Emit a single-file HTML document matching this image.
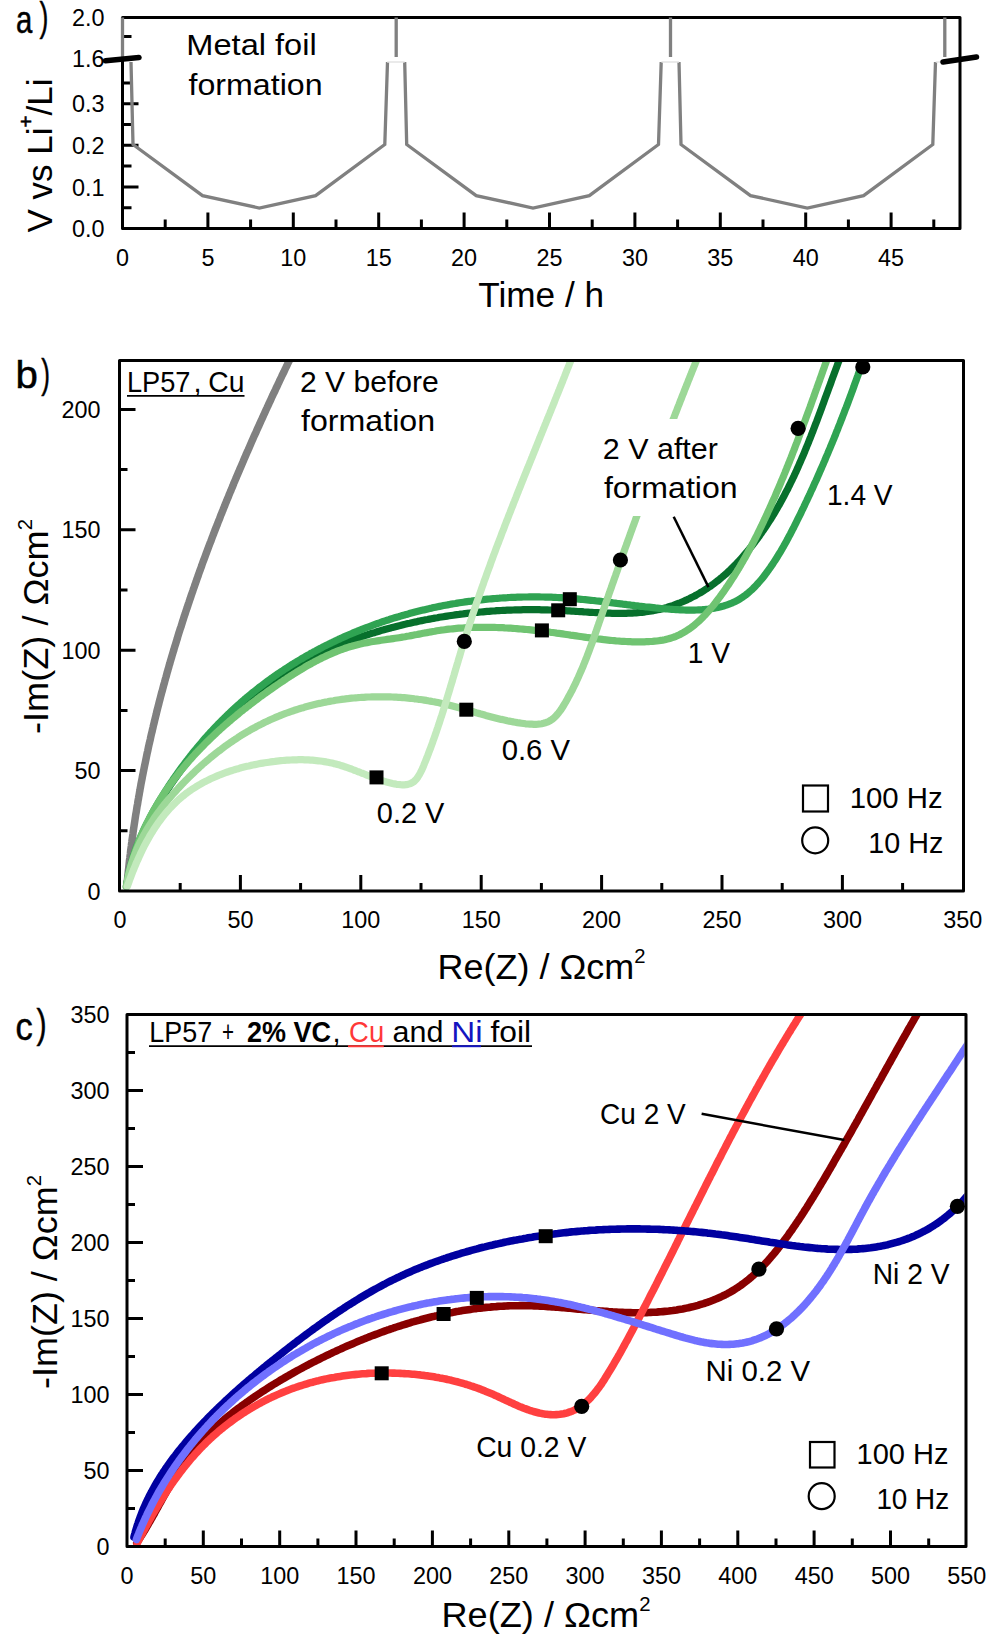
<!DOCTYPE html>
<html><head><meta charset="utf-8"><title>Figure</title>
<style>
html,body{margin:0;padding:0;background:#fff;width:995px;height:1635px;overflow:hidden;}
svg{display:block;}
text{font-family:"Liberation Sans", sans-serif;}
</style></head><body>
<svg width="995" height="1635" viewBox="0 0 995 1635">
<rect x="122.5" y="17.5" width="837.5" height="211.0" fill="none" stroke="#000" stroke-width="3" stroke-linejoin="round"/>
<path d="M165.2,228.5 v-9 M207.9,228.5 v-16 M250.6,228.5 v-9 M293.3,228.5 v-16 M336.0,228.5 v-9 M378.7,228.5 v-16 M421.4,228.5 v-9 M464.1,228.5 v-16 M506.8,228.5 v-9 M549.5,228.5 v-16 M592.2,228.5 v-9 M634.9,228.5 v-16 M677.6,228.5 v-9 M720.3,228.5 v-16 M763.0,228.5 v-9 M805.7,228.5 v-16 M848.4,228.5 v-9 M891.1,228.5 v-16 M933.8,228.5 v-9 M122.5,207.7 h9 M122.5,186.9 h16 M122.5,166.1 h9 M122.5,145.3 h16 M122.5,124.5 h9 M122.5,103.7 h16 M122.5,82.9 h9 M122.5,36.6 h9" stroke="#000" stroke-width="3" fill="none"/>
<path d="M122.5,17.5 L122.5,57.0 M131.0,62.0 L133.0,144.5 L202.5,195.6 L259.3,208.0 L315.6,195.6 L384.8,144.5 L387.5,62.0 M396.2,17.5 L396.2,57.0 M404.7,62.0 L406.7,144.5 L476.2,195.6 L533.0,208.0 L589.3,195.6 L658.5,144.5 L661.2,62.0 M670.5,17.5 L670.5,57.0 M679.0,62.0 L681.0,144.5 L750.5,195.6 L807.3,208.0 L863.6,195.6 L932.8,144.5 L935.5,62.0 M944.8,17.5 L944.8,57.0" stroke="#808080" stroke-width="3.3" fill="none"/>
<path d="M387.1,62 L404.7,62 M661.4,62 L679.0,62 M935.7,62 L953.3,62" stroke="#e4e4e4" stroke-width="1.5" fill="none"/>
<path d="M105.5,60.8 L139,57.6 M943,62 L976.5,57" stroke="#000" stroke-width="5.5" stroke-linecap="round" fill="none"/>
<text x="71.97" y="237.1" font-size="24.5" textLength="32.53" lengthAdjust="spacingAndGlyphs">0.0</text>
<text x="71.97" y="195.5" font-size="24.5" textLength="32.53" lengthAdjust="spacingAndGlyphs">0.1</text>
<text x="71.97" y="153.9" font-size="24.5" textLength="32.53" lengthAdjust="spacingAndGlyphs">0.2</text>
<text x="71.97" y="112.3" font-size="24.5" textLength="32.53" lengthAdjust="spacingAndGlyphs">0.3</text>
<text x="71.97" y="66.6" font-size="24.5" textLength="32.53" lengthAdjust="spacingAndGlyphs">1.6</text>
<text x="71.97" y="25.6" font-size="24.5" textLength="32.53" lengthAdjust="spacingAndGlyphs">2.0</text>
<text x="115.99" y="265.6" font-size="24.5" textLength="13.01" lengthAdjust="spacingAndGlyphs">0</text>
<text x="201.39" y="265.6" font-size="24.5" textLength="13.01" lengthAdjust="spacingAndGlyphs">5</text>
<text x="280.29" y="265.6" font-size="24.5" textLength="26.03" lengthAdjust="spacingAndGlyphs">10</text>
<text x="365.69" y="265.6" font-size="24.5" textLength="26.03" lengthAdjust="spacingAndGlyphs">15</text>
<text x="451.09" y="265.6" font-size="24.5" textLength="26.03" lengthAdjust="spacingAndGlyphs">20</text>
<text x="536.49" y="265.6" font-size="24.5" textLength="26.03" lengthAdjust="spacingAndGlyphs">25</text>
<text x="621.89" y="265.6" font-size="24.5" textLength="26.03" lengthAdjust="spacingAndGlyphs">30</text>
<text x="707.29" y="265.6" font-size="24.5" textLength="26.03" lengthAdjust="spacingAndGlyphs">35</text>
<text x="792.69" y="265.6" font-size="24.5" textLength="26.03" lengthAdjust="spacingAndGlyphs">40</text>
<text x="878.09" y="265.6" font-size="24.5" textLength="26.03" lengthAdjust="spacingAndGlyphs">45</text>
<text x="478.22" y="306.7" font-size="35.5" textLength="125.85" lengthAdjust="spacingAndGlyphs" >Time / h</text>
<g transform="translate(51.7,232.5) rotate(-90)"><text x="0" y="0" font-size="35.5" textLength="154" lengthAdjust="spacingAndGlyphs">V vs Li<tspan font-size="21" dy="-19" stroke="#000" stroke-width="0.6">+</tspan><tspan dy="19">/Li</tspan></text></g>
<text x="16.05" y="32.5" font-size="39" textLength="16.35" lengthAdjust="spacingAndGlyphs" stroke="#000" stroke-width="0.5">a</text>
<text x="39.44" y="31.4" font-size="40.5" textLength="8.92" lengthAdjust="spacingAndGlyphs" stroke="#000" stroke-width="0.4">)</text>
<text x="186.33" y="55" font-size="29" textLength="130.35" lengthAdjust="spacingAndGlyphs" >Metal foil</text>
<text x="188.54" y="95.2" font-size="29" textLength="134.04" lengthAdjust="spacingAndGlyphs" >formation</text>
<defs><clipPath id="cb"><rect x="121" y="362" width="841" height="527.5"/></clipPath><clipPath id="cc"><rect x="128.5" y="1016" width="836" height="529"/></clipPath></defs>
<g clip-path="url(#cb)" fill="none" stroke-linecap="round" stroke-linejoin="round">
<path d="M127.0,884.4 L127.2,882.3 L127.4,880.3 L127.6,878.3 L127.8,876.3 L128.0,874.3 L128.2,872.3 L128.4,870.3 L128.7,868.3 L128.9,866.2 L129.1,864.2 L129.3,862.2 L129.5,860.2 L129.8,858.2 L130.0,856.2 L130.3,854.2 L130.5,852.2 L130.7,850.2 L131.0,848.2 L131.3,846.2 L131.5,844.2 L131.8,842.2 L132.0,840.2 L132.3,838.2 L132.6,836.2 L132.9,834.2 L133.1,832.2 L133.4,830.2 L133.7,828.2 L134.0,826.2 L134.3,824.2 L134.6,822.3 L134.9,820.3 L135.2,818.3 L135.5,816.3 L135.8,814.3 L136.2,812.3 L136.5,810.3 L136.8,808.3 L137.1,806.3 L137.5,804.4 L137.8,802.4 L138.1,800.4 L138.5,798.4 L138.8,796.4 L139.2,794.5 L139.5,792.5 L139.9,790.5 L140.2,788.5 L140.6,786.5 L140.9,784.6 L141.3,782.6 L141.7,780.6 L142.1,778.6 L142.4,776.7 L142.8,774.7 L143.2,772.7 L143.6,770.7 L144.0,768.8 L144.4,766.8 L144.8,764.8 L145.2,762.9 L145.6,760.9 L146.0,758.9 L146.4,757.0 L146.8,755.0 L147.2,753.0 L147.7,751.1 L148.1,749.1 L148.5,747.1 L148.9,745.2 L149.4,743.2 L149.8,741.3 L150.3,739.3 L150.7,737.3 L151.1,735.4 L151.6,733.4 L152.1,731.5 L152.5,729.5 L153.0,727.6 L153.4,725.6 L153.9,723.7 L154.4,721.7 L154.8,719.8 L155.3,717.8 L155.8,715.9 L156.3,713.9 L156.7,712.0 L157.2,710.0 L157.7,708.1 L158.2,706.1 L158.7,704.2 L159.2,702.2 L159.7,700.3 L160.2,698.3 L160.7,696.4 L161.2,694.5 L161.7,692.5 L162.3,690.6 L162.8,688.6 L163.3,686.7 L163.8,684.8 L164.4,682.8 L164.9,680.9 L165.4,679.0 L166.0,677.0 L166.5,675.1 L167.0,673.2 L167.6,671.2 L168.1,669.3 L168.7,667.4 L169.2,665.4 L169.8,663.5 L170.3,661.6 L170.9,659.6 L171.5,657.7 L172.0,655.8 L172.6,653.9 L173.2,651.9 L173.8,650.0 L174.3,648.1 L174.9,646.2 L175.5,644.3 L176.1,642.3 L176.7,640.4 L177.3,638.5 L177.8,636.6 L178.4,634.7 L179.0,632.7 L179.6,630.8 L180.2,628.9 L180.9,627.0 L181.5,625.1 L182.1,623.2 L182.7,621.2 L183.3,619.3 L183.9,617.4 L184.5,615.5 L185.2,613.6 L185.8,611.7 L186.4,609.8 L187.1,607.9 L187.7,606.0 L188.3,604.1 L189.0,602.2 L189.6,600.3 L190.3,598.4 L190.9,596.5 L191.5,594.6 L192.2,592.7 L192.9,590.7 L193.5,588.8 L194.2,587.0 L194.8,585.1 L195.5,583.2 L196.2,581.3 L196.8,579.4 L197.5,577.5 L198.2,575.6 L198.8,573.7 L199.5,571.8 L200.2,569.9 L200.9,568.0 L201.6,566.1 L202.2,564.2 L202.9,562.3 L203.6,560.4 L204.3,558.6 L205.0,556.7 L205.7,554.8 L206.4,552.9 L207.1,551.0 L207.8,549.1 L208.5,547.2 L209.2,545.4 L209.9,543.5 L210.7,541.6 L211.4,539.7 L212.1,537.8 L212.8,536.0 L213.5,534.1 L214.2,532.2 L215.0,530.3 L215.7,528.4 L216.4,526.6 L217.2,524.7 L217.9,522.8 L218.6,521.0 L219.4,519.1 L220.1,517.2 L220.8,515.3 L221.6,513.5 L222.3,511.6 L223.1,509.7 L223.8,507.9 L224.6,506.0 L225.3,504.1 L226.1,502.3 L226.8,500.4 L227.6,498.5 L228.4,496.7 L229.1,494.8 L229.9,492.9 L230.7,491.1 L231.4,489.2 L232.2,487.4 L233.0,485.5 L233.7,483.6 L234.5,481.8 L235.3,479.9 L236.1,478.1 L236.8,476.2 L237.6,474.4 L238.4,472.5 L239.2,470.7 L240.0,468.8 L240.8,467.0 L241.6,465.1 L242.4,463.3 L243.2,461.4 L243.9,459.6 L244.7,457.7 L245.5,455.9 L246.3,454.0 L247.1,452.2 L248.0,450.3 L248.8,448.5 L249.6,446.6 L250.4,444.8 L251.2,442.9 L252.0,441.1 L252.8,439.3 L253.6,437.4 L254.4,435.6 L255.3,433.7 L256.1,431.9 L256.9,430.1 L257.7,428.2 L258.6,426.4 L259.4,424.6 L260.2,422.7 L261.0,420.9 L261.9,419.1 L262.7,417.2 L263.5,415.4 L264.4,413.6 L265.2,411.7 L266.0,409.9 L266.9,408.1 L267.7,406.3 L268.6,404.4 L269.4,402.6 L270.3,400.8 L271.1,399.0 L271.9,397.1 L272.8,395.3 L273.6,393.5 L274.5,391.7 L275.4,389.8 L276.2,388.0 L277.1,386.2 L277.9,384.4 L278.8,382.6 L279.6,380.7 L280.5,378.9 L281.4,377.1 L282.2,375.3 L283.1,373.5 L284.0,371.7 L284.8,369.9 L285.7,368.0 L286.6,366.2 L287.4,364.4 L288.3,362.6 L289.2,360.8 L290.0,359.0" stroke="#808080" stroke-width="7.5"/>
<path d="M126.4,886.3 L126.8,884.3 L127.2,882.4 L127.6,880.5 L128.1,878.6 L128.5,876.7 L129.0,874.7 L129.5,872.8 L130.0,870.9 L130.5,869.0 L131.1,867.1 L131.6,865.2 L132.2,863.3 L132.8,861.4 L133.4,859.4 L134.0,857.5 L134.7,855.7 L135.3,853.8 L136.0,851.9 L136.7,850.0 L137.4,848.1 L138.1,846.2 L138.9,844.3 L139.6,842.5 L140.4,840.6 L141.2,838.7 L141.9,836.9 L142.8,835.0 L143.6,833.2 L144.4,831.3 L145.3,829.5 L146.1,827.7 L147.0,825.8 L147.9,824.0 L148.8,822.2 L149.7,820.4 L150.6,818.6 L151.5,816.8 L152.5,815.0 L153.4,813.2 L154.4,811.4 L155.4,809.7 L156.4,807.9 L157.4,806.1 L158.4,804.4 L159.4,802.6 L160.4,800.9 L161.5,799.2 L162.5,797.4 L163.6,795.7 L164.6,794.0 L165.7,792.3 L166.8,790.6 L167.9,788.9 L169.0,787.3 L170.1,785.6 L171.2,783.9 L172.4,782.3 L173.5,780.6 L174.6,779.0 L175.8,777.4 L177.0,775.7 L178.1,774.1 L179.3,772.5 L180.5,770.9 L181.7,769.3 L182.9,767.7 L184.1,766.1 L185.4,764.6 L186.6,763.0 L187.8,761.4 L189.1,759.9 L190.3,758.3 L191.6,756.8 L192.9,755.3 L194.2,753.7 L195.5,752.2 L196.8,750.7 L198.1,749.2 L199.4,747.7 L200.7,746.2 L202.0,744.7 L203.4,743.3 L204.7,741.8 L206.1,740.3 L207.4,738.9 L208.8,737.4 L210.2,736.0 L211.6,734.5 L212.9,733.1 L214.3,731.7 L215.7,730.3 L217.2,728.9 L218.6,727.5 L220.0,726.1 L221.4,724.7 L222.9,723.3 L224.3,721.9 L225.8,720.5 L227.2,719.2 L228.7,717.8 L230.2,716.4 L231.7,715.1 L233.1,713.7 L234.6,712.4 L236.1,711.1 L237.7,709.8 L239.2,708.4 L240.7,707.1 L242.2,705.8 L243.8,704.5 L245.3,703.2 L246.8,701.9 L248.4,700.6 L250.0,699.4 L251.5,698.1 L253.1,696.8 L254.7,695.6 L256.3,694.3 L257.8,693.1 L259.4,691.9 L261.1,690.6 L262.7,689.4 L264.3,688.2 L265.9,687.0 L267.5,685.8 L269.2,684.6 L270.8,683.5 L272.4,682.3 L274.1,681.1 L275.8,680.0 L277.4,678.8 L279.1,677.7 L280.8,676.6 L282.4,675.4 L284.1,674.3 L285.8,673.2 L287.5,672.1 L289.2,671.1 L290.9,670.0 L292.7,668.9 L294.4,667.9 L296.1,666.8 L297.8,665.8 L299.6,664.8 L301.3,663.8 L303.1,662.8 L304.8,661.8 L306.6,660.8 L308.4,659.9 L310.1,658.9 L311.9,658.0 L313.7,657.0 L315.5,656.1 L317.3,655.2 L319.1,654.3 L320.9,653.4 L322.7,652.5 L324.5,651.7 L326.3,650.8 L328.1,650.0 L330.0,649.1 L331.8,648.3 L333.6,647.5 L335.5,646.7 L337.3,645.9 L339.2,645.2 L341.0,644.4 L342.9,643.6 L344.8,642.9 L346.6,642.2 L348.5,641.4 L350.4,640.7 L352.3,640.0 L354.1,639.3 L356.0,638.7 L357.9,638.0 L359.8,637.3 L361.7,636.7 L363.6,636.0 L365.5,635.4 L367.4,634.8 L369.3,634.1 L371.2,633.5 L373.1,632.9 L375.1,632.4 L377.0,631.8 L378.9,631.2 L380.8,630.6 L382.8,630.1 L384.7,629.5 L386.6,629.0 L388.6,628.5 L390.5,628.0 L392.4,627.4 L394.4,626.9 L396.3,626.4 L398.3,625.9 L400.2,625.5 L402.1,625.0 L404.1,624.5 L406.0,624.1 L408.0,623.6 L409.9,623.2 L411.9,622.7 L413.8,622.3 L415.8,621.9 L417.7,621.4 L419.7,621.0 L421.7,620.6 L423.6,620.2 L425.6,619.8 L427.5,619.5 L429.5,619.1 L431.5,618.7 L433.4,618.4 L435.4,618.0 L437.4,617.7 L439.3,617.3 L441.3,617.0 L443.3,616.7 L445.3,616.4 L447.2,616.1 L449.2,615.8 L451.2,615.5 L453.2,615.2 L455.1,614.9 L457.1,614.6 L459.1,614.4 L461.1,614.1 L463.1,613.9 L465.1,613.6 L467.0,613.4 L469.0,613.2 L471.0,612.9 L473.0,612.7 L475.0,612.5 L477.0,612.3 L479.0,612.1 L481.0,612.0 L483.0,611.8 L485.0,611.6 L487.0,611.4 L489.0,611.3 L491.0,611.1 L493.0,611.0 L495.0,610.9 L497.0,610.7 L499.0,610.6 L501.0,610.5 L503.0,610.4 L505.0,610.3 L507.0,610.2 L509.0,610.1 L511.0,610.1 L513.0,610.0 L515.0,609.9 L517.0,609.9 L519.0,609.8 L521.0,609.8 L523.1,609.7 L525.1,609.7 L527.1,609.7 L529.1,609.7 L531.1,609.7 L533.1,609.7 L535.2,609.7 L537.2,609.7 L539.2,609.7 L541.2,609.8 L543.2,609.8 L545.3,609.8 L547.3,609.9 L549.3,610.0 L551.3,610.0 L553.4,610.1 L555.4,610.2 L557.4,610.3 L559.4,610.4 L561.5,610.5 L563.5,610.6 L565.5,610.7 L567.6,610.8 L569.6,610.9 L571.6,611.1 L573.7,611.2 L575.7,611.3 L577.7,611.5 L579.7,611.6 L581.8,611.7 L583.8,611.9 L585.8,612.0 L587.9,612.1 L589.9,612.3 L591.9,612.4 L593.9,612.5 L596.0,612.6 L598.0,612.7 L600.0,612.8 L602.0,612.9 L604.1,613.0 L606.1,613.1 L608.1,613.2 L610.1,613.2 L612.1,613.3 L614.1,613.3 L616.1,613.4 L618.1,613.4 L620.1,613.4 L622.1,613.4 L624.1,613.3 L626.1,613.3 L628.1,613.2 L630.1,613.2 L632.1,613.1 L634.0,612.9 L636.0,612.8 L638.0,612.6 L640.0,612.5 L641.9,612.3 L643.9,612.1 L645.8,611.8 L647.8,611.5 L649.7,611.2 L651.7,610.9 L653.6,610.6 L655.5,610.2 L657.5,609.8 L659.4,609.4 L661.3,608.9 L663.2,608.4 L665.1,607.9 L667.0,607.4 L668.9,606.8 L670.8,606.2 L672.7,605.6 L674.6,604.9 L676.4,604.2 L678.3,603.5 L680.1,602.8 L682.0,602.0 L683.8,601.2 L685.6,600.4 L687.4,599.6 L689.3,598.7 L691.0,597.8 L692.8,596.9 L694.6,596.0 L696.4,595.0 L698.1,594.0 L699.8,593.0 L701.6,592.0 L703.3,590.9 L705.0,589.8 L706.7,588.7 L708.3,587.6 L710.0,586.5 L711.6,585.3 L713.3,584.1 L714.9,582.9 L716.5,581.7 L718.1,580.5 L719.6,579.2 L721.2,577.9 L722.7,576.6 L724.3,575.3 L725.8,574.0 L727.3,572.6 L728.7,571.2 L730.2,569.9 L731.7,568.5 L733.1,567.0 L734.5,565.6 L735.9,564.2 L737.3,562.7 L738.7,561.2 L740.1,559.8 L741.4,558.3 L742.7,556.8 L744.1,555.2 L745.4,553.7 L746.7,552.2 L748.0,550.6 L749.3,549.1 L750.5,547.5 L751.8,545.9 L753.0,544.4 L754.3,542.8 L755.5,541.2 L756.7,539.6 L757.9,538.0 L759.1,536.3 L760.2,534.7 L761.4,533.1 L762.5,531.4 L763.7,529.8 L764.8,528.1 L765.9,526.5 L767.0,524.8 L768.1,523.1 L769.2,521.4 L770.3,519.7 L771.4,518.0 L772.4,516.3 L773.5,514.6 L774.5,512.9 L775.5,511.2 L776.5,509.5 L777.5,507.7 L778.5,506.0 L779.5,504.3 L780.5,502.5 L781.4,500.8 L782.4,499.0 L783.3,497.3 L784.3,495.5 L785.2,493.7 L786.1,491.9 L787.0,490.2 L788.0,488.4 L788.8,486.6 L789.7,484.8 L790.6,483.0 L791.5,481.2 L792.4,479.4 L793.2,477.6 L794.1,475.8 L794.9,474.0 L795.8,472.2 L796.6,470.4 L797.4,468.5 L798.2,466.7 L799.0,464.9 L799.8,463.0 L800.6,461.2 L801.4,459.4 L802.2,457.5 L803.0,455.7 L803.8,453.8 L804.6,452.0 L805.3,450.1 L806.1,448.3 L806.8,446.4 L807.6,444.6 L808.4,442.7 L809.1,440.8 L809.8,439.0 L810.6,437.1 L811.3,435.2 L812.0,433.4 L812.8,431.5 L813.5,429.6 L814.2,427.7 L814.9,425.9 L815.6,424.0 L816.4,422.1 L817.1,420.2 L817.8,418.3 L818.5,416.5 L819.2,414.6 L819.9,412.7 L820.6,410.8 L821.3,408.9 L822.0,407.0 L822.7,405.1 L823.4,403.3 L824.0,401.4 L824.7,399.5 L825.4,397.6 L826.1,395.7 L826.8,393.8 L827.5,391.9 L828.2,390.0 L828.9,388.1 L829.6,386.2 L830.3,384.4 L831.0,382.5 L831.6,380.6 L832.3,378.7 L833.0,376.8 L833.7,374.9 L834.4,373.0 L835.1,371.2 L835.8,369.3 L836.5,367.4 L837.2,365.5 L837.9,363.6 L838.6,361.8 L839.3,359.9 L840.0,358.0" stroke="#07702c" stroke-width="7.2"/>
<path d="M126.6,886.4 L126.9,884.4 L127.2,882.4 L127.5,880.4 L127.9,878.4 L128.2,876.5 L128.6,874.5 L129.0,872.5 L129.5,870.6 L129.9,868.6 L130.4,866.7 L130.9,864.7 L131.4,862.8 L132.0,860.9 L132.6,859.0 L133.1,857.1 L133.7,855.2 L134.4,853.3 L135.0,851.4 L135.7,849.5 L136.3,847.6 L137.0,845.7 L137.8,843.9 L138.5,842.0 L139.2,840.2 L140.0,838.3 L140.8,836.5 L141.6,834.7 L142.4,832.9 L143.2,831.0 L144.1,829.2 L144.9,827.4 L145.8,825.6 L146.7,823.8 L147.6,822.1 L148.5,820.3 L149.4,818.5 L150.4,816.7 L151.3,815.0 L152.3,813.2 L153.2,811.4 L154.2,809.7 L155.2,808.0 L156.2,806.2 L157.2,804.5 L158.2,802.7 L159.3,801.0 L160.3,799.3 L161.4,797.6 L162.4,795.9 L163.5,794.2 L164.6,792.5 L165.6,790.8 L166.7,789.1 L167.8,787.4 L168.9,785.7 L170.1,784.0 L171.2,782.3 L172.3,780.7 L173.4,779.0 L174.6,777.4 L175.7,775.7 L176.9,774.1 L178.1,772.4 L179.2,770.8 L180.4,769.1 L181.6,767.5 L182.8,765.9 L184.0,764.3 L185.2,762.7 L186.4,761.1 L187.7,759.5 L188.9,757.9 L190.1,756.3 L191.4,754.7 L192.7,753.1 L193.9,751.6 L195.2,750.0 L196.5,748.4 L197.8,746.9 L199.1,745.3 L200.4,743.8 L201.7,742.3 L203.0,740.7 L204.3,739.2 L205.6,737.7 L207.0,736.2 L208.3,734.7 L209.7,733.2 L211.0,731.7 L212.4,730.3 L213.8,728.8 L215.2,727.3 L216.5,725.9 L217.9,724.4 L219.3,723.0 L220.8,721.5 L222.2,720.1 L223.6,718.7 L225.0,717.3 L226.5,715.9 L227.9,714.5 L229.4,713.1 L230.8,711.7 L232.3,710.3 L233.8,709.0 L235.2,707.6 L236.7,706.3 L238.2,704.9 L239.7,703.6 L241.2,702.3 L242.7,700.9 L244.2,699.6 L245.8,698.3 L247.3,697.0 L248.8,695.8 L250.4,694.5 L251.9,693.2 L253.5,692.0 L255.1,690.7 L256.6,689.5 L258.2,688.2 L259.8,687.0 L261.4,685.8 L263.0,684.6 L264.6,683.4 L266.2,682.2 L267.8,681.0 L269.4,679.8 L271.0,678.6 L272.7,677.5 L274.3,676.3 L275.9,675.2 L277.6,674.0 L279.2,672.9 L280.9,671.8 L282.6,670.7 L284.2,669.6 L285.9,668.5 L287.6,667.4 L289.3,666.3 L291.0,665.2 L292.7,664.2 L294.4,663.1 L296.1,662.1 L297.8,661.0 L299.5,660.0 L301.2,659.0 L303.0,658.0 L304.7,656.9 L306.4,656.0 L308.2,655.0 L309.9,654.0 L311.7,653.0 L313.4,652.0 L315.2,651.1 L317.0,650.1 L318.7,649.2 L320.5,648.3 L322.3,647.3 L324.1,646.4 L325.9,645.5 L327.7,644.6 L329.5,643.7 L331.3,642.9 L333.1,642.0 L334.9,641.1 L336.7,640.3 L338.5,639.4 L340.3,638.6 L342.2,637.7 L344.0,636.9 L345.8,636.1 L347.7,635.3 L349.5,634.5 L351.4,633.7 L353.2,632.9 L355.1,632.1 L356.9,631.4 L358.8,630.6 L360.6,629.9 L362.5,629.1 L364.4,628.4 L366.3,627.7 L368.1,627.0 L370.0,626.3 L371.9,625.6 L373.8,624.9 L375.7,624.2 L377.6,623.5 L379.5,622.9 L381.4,622.2 L383.3,621.5 L385.2,620.9 L387.1,620.3 L389.0,619.7 L390.9,619.0 L392.8,618.4 L394.8,617.8 L396.7,617.2 L398.6,616.7 L400.5,616.1 L402.5,615.5 L404.4,615.0 L406.3,614.4 L408.3,613.9 L410.2,613.3 L412.2,612.8 L414.1,612.3 L416.0,611.8 L418.0,611.3 L420.0,610.8 L421.9,610.3 L423.9,609.9 L425.8,609.4 L427.8,608.9 L429.7,608.5 L431.7,608.1 L433.7,607.6 L435.6,607.2 L437.6,606.8 L439.6,606.4 L441.6,606.0 L443.5,605.6 L445.5,605.2 L447.5,604.9 L449.5,604.5 L451.4,604.1 L453.4,603.8 L455.4,603.5 L457.4,603.1 L459.4,602.8 L461.4,602.5 L463.3,602.2 L465.3,601.9 L467.3,601.6 L469.3,601.3 L471.3,601.1 L473.3,600.8 L475.3,600.5 L477.3,600.3 L479.3,600.1 L481.3,599.8 L483.3,599.6 L485.3,599.4 L487.3,599.2 L489.3,599.0 L491.3,598.8 L493.3,598.6 L495.3,598.5 L497.3,598.3 L499.3,598.2 L501.3,598.0 L503.3,597.9 L505.3,597.8 L507.3,597.7 L509.3,597.5 L511.3,597.4 L513.3,597.4 L515.3,597.3 L517.3,597.2 L519.3,597.1 L521.3,597.1 L523.3,597.0 L525.3,597.0 L527.3,597.0 L529.3,596.9 L531.3,596.9 L533.3,596.9 L535.3,596.9 L537.3,596.9 L539.3,596.9 L541.3,597.0 L543.3,597.0 L545.3,597.1 L547.3,597.1 L549.3,597.2 L551.3,597.2 L553.3,597.3 L555.3,597.4 L557.2,597.5 L559.2,597.6 L561.2,597.7 L563.2,597.8 L565.2,598.0 L567.2,598.1 L569.2,598.3 L571.2,598.4 L573.1,598.6 L575.1,598.7 L577.1,598.9 L579.1,599.1 L581.1,599.3 L583.1,599.5 L585.0,599.7 L587.0,599.9 L589.0,600.1 L591.0,600.3 L593.0,600.5 L595.0,600.7 L596.9,601.0 L598.9,601.2 L600.9,601.4 L602.9,601.7 L604.9,601.9 L606.9,602.1 L608.9,602.4 L610.9,602.6 L612.9,602.9 L614.8,603.1 L616.8,603.4 L618.8,603.6 L620.8,603.8 L622.9,604.1 L624.9,604.3 L626.9,604.6 L628.9,604.8 L630.9,605.1 L632.9,605.3 L634.9,605.6 L636.9,605.8 L639.0,606.1 L641.0,606.3 L643.0,606.5 L645.0,606.8 L647.1,607.0 L649.1,607.2 L651.2,607.4 L653.2,607.6 L655.3,607.9 L657.3,608.1 L659.4,608.3 L661.4,608.5 L663.5,608.7 L665.6,608.8 L667.6,609.0 L669.7,609.2 L671.8,609.3 L673.9,609.5 L675.9,609.6 L678.0,609.7 L680.1,609.8 L682.1,609.9 L684.2,610.0 L686.2,610.1 L688.3,610.1 L690.3,610.1 L692.4,610.1 L694.4,610.1 L696.4,610.0 L698.5,609.9 L700.5,609.8 L702.5,609.7 L704.5,609.5 L706.4,609.3 L708.4,609.1 L710.3,608.8 L712.3,608.5 L714.2,608.2 L716.1,607.8 L718.0,607.4 L719.9,607.0 L721.7,606.5 L723.6,606.0 L725.4,605.4 L727.2,604.8 L729.0,604.2 L730.7,603.5 L732.4,602.8 L734.2,602.0 L735.9,601.2 L737.5,600.3 L739.2,599.3 L740.8,598.4 L742.4,597.3 L743.9,596.2 L745.5,595.1 L747.0,593.9 L748.5,592.7 L749.9,591.4 L751.4,590.1 L752.8,588.8 L754.2,587.4 L755.6,586.0 L756.9,584.5 L758.3,583.0 L759.6,581.5 L760.9,580.0 L762.2,578.4 L763.4,576.9 L764.7,575.2 L765.9,573.6 L767.1,572.0 L768.3,570.3 L769.5,568.7 L770.7,567.0 L771.8,565.3 L773.0,563.6 L774.1,561.9 L775.2,560.2 L776.3,558.5 L777.4,556.8 L778.4,555.0 L779.5,553.3 L780.6,551.6 L781.6,549.8 L782.6,548.0 L783.6,546.3 L784.6,544.5 L785.6,542.7 L786.6,540.9 L787.6,539.1 L788.5,537.3 L789.5,535.5 L790.5,533.7 L791.4,531.9 L792.3,530.1 L793.3,528.3 L794.2,526.5 L795.1,524.7 L796.0,522.9 L796.9,521.0 L797.8,519.2 L798.7,517.4 L799.6,515.6 L800.5,513.8 L801.4,511.9 L802.2,510.1 L803.1,508.3 L804.0,506.5 L804.8,504.7 L805.7,502.8 L806.6,501.0 L807.4,499.2 L808.3,497.4 L809.1,495.6 L810.0,493.7 L810.8,491.9 L811.6,490.1 L812.5,488.3 L813.3,486.5 L814.1,484.6 L814.9,482.8 L815.8,481.0 L816.6,479.2 L817.4,477.3 L818.2,475.5 L819.0,473.7 L819.8,471.9 L820.6,470.0 L821.4,468.2 L822.2,466.4 L823.0,464.6 L823.8,462.7 L824.6,460.9 L825.3,459.1 L826.1,457.2 L826.9,455.4 L827.7,453.6 L828.4,451.7 L829.2,449.9 L830.0,448.1 L830.7,446.2 L831.5,444.4 L832.3,442.5 L833.0,440.7 L833.8,438.9 L834.5,437.0 L835.3,435.2 L836.0,433.3 L836.7,431.5 L837.5,429.6 L838.2,427.8 L838.9,425.9 L839.7,424.1 L840.4,422.2 L841.1,420.4 L841.9,418.5 L842.6,416.6 L843.3,414.8 L844.0,412.9 L844.7,411.0 L845.4,409.2 L846.2,407.3 L846.9,405.4 L847.6,403.6 L848.3,401.7 L849.0,399.8 L849.7,397.9 L850.4,396.0 L851.1,394.2 L851.8,392.3 L852.5,390.4 L853.2,388.5 L853.9,386.6 L854.5,384.7 L855.2,382.8 L855.9,380.9 L856.6,379.0 L857.3,377.1 L858.0,375.2 L858.6,373.3 L859.3,371.4 L860.0,369.4 L860.7,367.5 L861.4,365.6 L862.0,363.7 L862.7,361.8 L863.4,359.8 L864.0,357.9" stroke="#2fa352" stroke-width="7.2"/>
<path d="M126.3,886.8 L126.7,884.8 L127.1,882.7 L127.4,880.7 L127.9,878.7 L128.3,876.6 L128.7,874.6 L129.2,872.6 L129.7,870.6 L130.2,868.6 L130.7,866.6 L131.2,864.7 L131.8,862.7 L132.4,860.7 L132.9,858.8 L133.5,856.9 L134.2,854.9 L134.8,853.0 L135.4,851.1 L136.1,849.2 L136.8,847.3 L137.5,845.4 L138.2,843.5 L138.9,841.6 L139.6,839.8 L140.4,837.9 L141.1,836.1 L141.9,834.2 L142.7,832.4 L143.5,830.6 L144.4,828.8 L145.2,827.0 L146.1,825.2 L146.9,823.4 L147.8,821.6 L148.7,819.8 L149.6,818.0 L150.5,816.3 L151.5,814.5 L152.4,812.8 L153.4,811.0 L154.4,809.3 L155.3,807.6 L156.4,805.9 L157.4,804.2 L158.4,802.5 L159.4,800.8 L160.5,799.1 L161.5,797.4 L162.6,795.7 L163.7,794.1 L164.8,792.4 L165.9,790.8 L167.0,789.1 L168.2,787.5 L169.3,785.9 L170.5,784.3 L171.7,782.7 L172.8,781.1 L174.0,779.5 L175.2,777.9 L176.4,776.3 L177.7,774.7 L178.9,773.1 L180.1,771.6 L181.4,770.0 L182.7,768.5 L183.9,767.0 L185.2,765.4 L186.5,763.9 L187.8,762.4 L189.1,760.9 L190.5,759.4 L191.8,757.9 L193.1,756.4 L194.5,754.9 L195.8,753.4 L197.2,752.0 L198.6,750.5 L200.0,749.1 L201.4,747.6 L202.8,746.2 L204.2,744.7 L205.6,743.3 L207.0,741.9 L208.5,740.5 L209.9,739.1 L211.4,737.7 L212.8,736.3 L214.3,734.9 L215.8,733.5 L217.2,732.1 L218.7,730.8 L220.2,729.4 L221.7,728.1 L223.2,726.7 L224.7,725.4 L226.3,724.0 L227.8,722.7 L229.3,721.4 L230.9,720.1 L232.4,718.8 L234.0,717.5 L235.5,716.2 L237.1,714.9 L238.7,713.6 L240.2,712.3 L241.8,711.0 L243.4,709.8 L245.0,708.5 L246.6,707.3 L248.2,706.0 L249.8,704.8 L251.4,703.5 L253.0,702.3 L254.6,701.1 L256.3,699.9 L257.9,698.6 L259.5,697.4 L261.1,696.2 L262.8,695.0 L264.4,693.9 L266.1,692.7 L267.7,691.5 L269.4,690.3 L271.0,689.2 L272.7,688.0 L274.4,686.8 L276.0,685.7 L277.7,684.6 L279.4,683.4 L281.0,682.3 L282.7,681.2 L284.4,680.0 L286.1,678.9 L287.7,677.8 L289.4,676.7 L291.1,675.6 L292.8,674.6 L294.5,673.5 L296.2,672.4 L297.9,671.4 L299.6,670.3 L301.3,669.3 L303.1,668.3 L304.8,667.2 L306.5,666.2 L308.2,665.2 L310.0,664.3 L311.7,663.3 L313.5,662.4 L315.2,661.4 L317.0,660.5 L318.7,659.6 L320.5,658.7 L322.3,657.8 L324.1,657.0 L325.9,656.1 L327.7,655.3 L329.5,654.5 L331.3,653.7 L333.1,652.9 L334.9,652.2 L336.7,651.4 L338.6,650.7 L340.4,650.0 L342.3,649.3 L344.1,648.7 L346.0,648.0 L347.9,647.4 L349.8,646.8 L351.7,646.3 L353.6,645.7 L355.5,645.2 L357.4,644.7 L359.3,644.2 L361.3,643.8 L363.2,643.3 L365.2,642.9 L367.1,642.6 L369.1,642.2 L371.1,641.8 L373.1,641.5 L375.1,641.2 L377.1,640.9 L379.1,640.6 L381.1,640.3 L383.1,640.0 L385.1,639.7 L387.1,639.4 L389.1,639.2 L391.1,638.9 L393.1,638.6 L395.1,638.3 L397.1,638.0 L399.1,637.7 L401.1,637.4 L403.1,637.0 L405.1,636.7 L407.1,636.3 L409.1,636.0 L411.1,635.6 L413.1,635.2 L415.1,634.8 L417.0,634.5 L419.0,634.1 L421.0,633.7 L423.0,633.3 L424.9,632.9 L426.9,632.6 L428.9,632.2 L430.9,631.9 L432.8,631.5 L434.8,631.2 L436.8,630.8 L438.8,630.5 L440.8,630.2 L442.7,630.0 L444.7,629.7 L446.7,629.4 L448.7,629.2 L450.7,629.0 L452.7,628.8 L454.6,628.6 L456.6,628.4 L458.6,628.2 L460.6,628.1 L462.6,628.0 L464.6,627.8 L466.6,627.7 L468.6,627.6 L470.6,627.5 L472.6,627.5 L474.6,627.4 L476.6,627.4 L478.6,627.3 L480.6,627.3 L482.6,627.3 L484.6,627.3 L486.6,627.3 L488.6,627.3 L490.6,627.3 L492.6,627.4 L494.6,627.4 L496.6,627.5 L498.6,627.6 L500.7,627.7 L502.7,627.7 L504.7,627.9 L506.7,628.0 L508.7,628.1 L510.7,628.2 L512.7,628.3 L514.7,628.5 L516.7,628.6 L518.7,628.8 L520.7,629.0 L522.7,629.1 L524.7,629.3 L526.7,629.5 L528.7,629.7 L530.7,629.9 L532.7,630.1 L534.7,630.3 L536.7,630.6 L538.7,630.8 L540.7,631.0 L542.7,631.3 L544.7,631.5 L546.7,631.8 L548.7,632.0 L550.7,632.3 L552.7,632.5 L554.6,632.8 L556.6,633.1 L558.6,633.3 L560.6,633.6 L562.6,633.9 L564.6,634.2 L566.5,634.5 L568.5,634.8 L570.5,635.1 L572.5,635.3 L574.4,635.6 L576.4,635.9 L578.4,636.2 L580.4,636.5 L582.3,636.8 L584.3,637.1 L586.3,637.4 L588.3,637.6 L590.3,637.9 L592.2,638.2 L594.2,638.5 L596.2,638.7 L598.2,639.0 L600.2,639.2 L602.1,639.4 L604.1,639.7 L606.1,639.9 L608.1,640.1 L610.1,640.3 L612.1,640.5 L614.1,640.7 L616.1,640.9 L618.1,641.0 L620.1,641.2 L622.1,641.3 L624.1,641.4 L626.1,641.5 L628.1,641.6 L630.2,641.7 L632.2,641.8 L634.2,641.8 L636.3,641.9 L638.3,641.9 L640.3,641.9 L642.4,641.8 L644.4,641.8 L646.5,641.7 L648.6,641.6 L650.6,641.5 L652.6,641.4 L654.7,641.2 L656.7,641.0 L658.7,640.7 L660.7,640.4 L662.7,640.1 L664.7,639.7 L666.6,639.2 L668.5,638.8 L670.4,638.2 L672.3,637.6 L674.1,637.0 L676.0,636.3 L677.7,635.5 L679.5,634.7 L681.2,633.8 L682.9,632.9 L684.6,631.9 L686.3,630.9 L687.9,629.8 L689.5,628.7 L691.1,627.6 L692.7,626.4 L694.2,625.2 L695.7,623.9 L697.2,622.6 L698.7,621.3 L700.2,619.9 L701.6,618.5 L703.0,617.1 L704.4,615.6 L705.8,614.2 L707.1,612.7 L708.5,611.1 L709.8,609.6 L711.1,608.0 L712.4,606.5 L713.7,604.9 L715.0,603.3 L716.2,601.7 L717.5,600.0 L718.7,598.4 L719.9,596.8 L721.1,595.1 L722.3,593.5 L723.5,591.8 L724.6,590.2 L725.8,588.5 L726.9,586.8 L728.1,585.2 L729.2,583.5 L730.3,581.8 L731.4,580.1 L732.5,578.4 L733.6,576.7 L734.7,575.0 L735.7,573.3 L736.8,571.6 L737.8,569.9 L738.9,568.2 L739.9,566.5 L740.9,564.7 L741.9,563.0 L742.9,561.3 L743.9,559.5 L744.9,557.8 L745.9,556.1 L746.9,554.3 L747.8,552.6 L748.8,550.8 L749.7,549.0 L750.7,547.3 L751.6,545.5 L752.5,543.8 L753.5,542.0 L754.4,540.2 L755.3,538.4 L756.2,536.6 L757.1,534.9 L758.0,533.1 L758.8,531.3 L759.7,529.5 L760.6,527.7 L761.5,525.9 L762.3,524.1 L763.2,522.3 L764.0,520.5 L764.9,518.7 L765.7,516.9 L766.6,515.1 L767.4,513.3 L768.2,511.4 L769.1,509.6 L769.9,507.8 L770.7,506.0 L771.5,504.1 L772.3,502.3 L773.1,500.5 L774.0,498.7 L774.8,496.8 L775.6,495.0 L776.3,493.1 L777.1,491.3 L777.9,489.5 L778.7,487.6 L779.5,485.8 L780.3,483.9 L781.0,482.1 L781.8,480.2 L782.6,478.4 L783.4,476.5 L784.1,474.7 L784.9,472.8 L785.6,471.0 L786.4,469.1 L787.1,467.2 L787.9,465.4 L788.6,463.5 L789.4,461.7 L790.1,459.8 L790.9,457.9 L791.6,456.1 L792.3,454.2 L793.0,452.3 L793.8,450.4 L794.5,448.6 L795.2,446.7 L795.9,444.8 L796.7,442.9 L797.4,441.1 L798.1,439.2 L798.8,437.3 L799.5,435.4 L800.2,433.5 L800.9,431.7 L801.6,429.8 L802.3,427.9 L803.0,426.0 L803.7,424.1 L804.4,422.3 L805.1,420.4 L805.8,418.5 L806.5,416.6 L807.2,414.7 L807.9,412.8 L808.6,410.9 L809.3,409.0 L810.0,407.2 L810.7,405.3 L811.3,403.4 L812.0,401.5 L812.7,399.6 L813.4,397.7 L814.1,395.8 L814.7,393.9 L815.4,392.0 L816.1,390.1 L816.8,388.2 L817.4,386.4 L818.1,384.5 L818.8,382.6 L819.5,380.7 L820.1,378.8 L820.8,376.9 L821.5,375.0 L822.2,373.1 L822.8,371.2 L823.5,369.3 L824.2,367.5 L824.8,365.6 L825.5,363.7 L826.2,361.8 L826.8,359.9 L827.5,358.0" stroke="#70c472" stroke-width="7.2"/>
<path d="M126.7,886.3 L127.0,884.3 L127.3,882.3 L127.6,880.4 L127.9,878.4 L128.3,876.4 L128.7,874.5 L129.2,872.6 L129.7,870.6 L130.2,868.7 L130.7,866.8 L131.2,864.9 L131.8,863.0 L132.4,861.1 L133.1,859.2 L133.7,857.4 L134.4,855.5 L135.1,853.7 L135.9,851.8 L136.6,850.0 L137.4,848.1 L138.2,846.3 L139.0,844.5 L139.9,842.7 L140.8,840.9 L141.7,839.2 L142.6,837.4 L143.5,835.6 L144.5,833.9 L145.5,832.1 L146.5,830.4 L147.5,828.7 L148.5,826.9 L149.6,825.2 L150.7,823.5 L151.8,821.9 L152.9,820.2 L154.0,818.5 L155.1,816.8 L156.3,815.2 L157.5,813.5 L158.7,811.9 L159.9,810.3 L161.1,808.7 L162.3,807.0 L163.6,805.4 L164.9,803.9 L166.1,802.3 L167.4,800.7 L168.7,799.1 L170.0,797.6 L171.4,796.0 L172.7,794.5 L174.0,793.0 L175.4,791.5 L176.8,790.0 L178.1,788.5 L179.5,787.0 L180.9,785.5 L182.3,784.0 L183.7,782.6 L185.1,781.1 L186.5,779.7 L188.0,778.2 L189.4,776.8 L190.9,775.4 L192.3,774.0 L193.8,772.6 L195.2,771.2 L196.7,769.8 L198.2,768.5 L199.6,767.1 L201.1,765.8 L202.6,764.4 L204.1,763.1 L205.7,761.8 L207.2,760.5 L208.7,759.2 L210.2,757.9 L211.8,756.6 L213.3,755.4 L214.9,754.1 L216.4,752.9 L218.0,751.7 L219.6,750.5 L221.2,749.3 L222.7,748.1 L224.3,746.9 L225.9,745.7 L227.6,744.6 L229.2,743.4 L230.8,742.3 L232.4,741.2 L234.1,740.1 L235.7,739.0 L237.4,737.9 L239.0,736.8 L240.7,735.7 L242.4,734.7 L244.1,733.7 L245.8,732.7 L247.5,731.6 L249.2,730.7 L250.9,729.7 L252.6,728.7 L254.4,727.8 L256.1,726.8 L257.8,725.9 L259.6,725.0 L261.4,724.1 L263.1,723.2 L264.9,722.3 L266.7,721.5 L268.5,720.6 L270.3,719.8 L272.1,719.0 L273.9,718.2 L275.7,717.4 L277.6,716.6 L279.4,715.9 L281.2,715.1 L283.1,714.4 L285.0,713.7 L286.8,713.0 L288.7,712.3 L290.6,711.6 L292.5,711.0 L294.4,710.3 L296.3,709.7 L298.2,709.1 L300.1,708.5 L302.1,707.9 L304.0,707.4 L305.9,706.8 L307.9,706.3 L309.8,705.8 L311.8,705.3 L313.7,704.8 L315.7,704.3 L317.6,703.8 L319.6,703.4 L321.6,703.0 L323.6,702.5 L325.6,702.1 L327.5,701.8 L329.5,701.4 L331.5,701.0 L333.5,700.7 L335.5,700.3 L337.5,700.0 L339.5,699.7 L341.6,699.4 L343.6,699.2 L345.6,698.9 L347.6,698.7 L349.6,698.4 L351.6,698.2 L353.7,698.0 L355.7,697.8 L357.7,697.7 L359.8,697.5 L361.8,697.4 L363.8,697.3 L365.8,697.1 L367.9,697.0 L369.9,697.0 L371.9,696.9 L374.0,696.8 L376.0,696.8 L378.0,696.8 L380.1,696.8 L382.1,696.8 L384.1,696.8 L386.1,696.8 L388.2,696.9 L390.2,696.9 L392.2,697.0 L394.2,697.1 L396.3,697.2 L398.3,697.3 L400.3,697.4 L402.3,697.6 L404.3,697.7 L406.3,697.9 L408.4,698.1 L410.4,698.3 L412.4,698.5 L414.4,698.8 L416.3,699.0 L418.3,699.3 L420.3,699.5 L422.3,699.8 L424.3,700.1 L426.3,700.4 L428.2,700.8 L430.2,701.1 L432.2,701.5 L434.1,701.8 L436.1,702.2 L438.0,702.6 L439.9,703.0 L441.9,703.5 L443.8,703.9 L445.7,704.4 L447.6,704.8 L449.6,705.3 L451.5,705.8 L453.4,706.3 L455.3,706.8 L457.2,707.3 L459.1,707.8 L461.0,708.4 L462.9,708.9 L464.8,709.4 L466.7,710.0 L468.6,710.5 L470.5,711.1 L472.4,711.6 L474.3,712.1 L476.2,712.7 L478.1,713.2 L480.0,713.8 L481.9,714.3 L483.8,714.8 L485.7,715.4 L487.7,715.9 L489.6,716.4 L491.5,716.9 L493.5,717.4 L495.4,717.9 L497.4,718.4 L499.3,718.9 L501.3,719.4 L503.3,719.8 L505.3,720.2 L507.3,720.7 L509.3,721.1 L511.3,721.5 L513.3,721.9 L515.3,722.2 L517.4,722.6 L519.4,722.9 L521.5,723.2 L523.6,723.5 L525.6,723.8 L527.7,724.0 L529.8,724.1 L531.8,724.2 L533.9,724.3 L535.9,724.3 L537.9,724.2 L539.8,724.0 L541.7,723.7 L543.5,723.3 L545.3,722.8 L547.1,722.2 L548.8,721.4 L550.4,720.5 L551.9,719.5 L553.4,718.4 L554.8,717.1 L556.1,715.7 L557.4,714.3 L558.7,712.7 L559.9,711.1 L561.1,709.5 L562.2,707.8 L563.3,706.0 L564.4,704.2 L565.4,702.5 L566.4,700.7 L567.4,698.9 L568.4,697.1 L569.4,695.3 L570.4,693.5 L571.3,691.7 L572.3,689.9 L573.2,688.0 L574.1,686.2 L575.0,684.4 L575.9,682.6 L576.7,680.7 L577.6,678.9 L578.4,677.1 L579.2,675.2 L580.0,673.4 L580.8,671.5 L581.6,669.7 L582.4,667.8 L583.2,666.0 L583.9,664.1 L584.7,662.3 L585.4,660.4 L586.2,658.5 L586.9,656.7 L587.6,654.8 L588.3,652.9 L589.0,651.1 L589.7,649.2 L590.4,647.3 L591.1,645.4 L591.8,643.6 L592.5,641.7 L593.1,639.8 L593.8,637.9 L594.5,636.0 L595.1,634.2 L595.8,632.3 L596.4,630.4 L597.1,628.5 L597.7,626.6 L598.4,624.7 L599.0,622.8 L599.7,621.0 L600.3,619.1 L601.0,617.2 L601.6,615.3 L602.3,613.4 L602.9,611.5 L603.6,609.6 L604.2,607.7 L604.9,605.9 L605.5,604.0 L606.2,602.1 L606.9,600.2 L607.5,598.3 L608.2,596.4 L608.8,594.5 L609.5,592.6 L610.1,590.8 L610.8,588.9 L611.5,587.0 L612.1,585.1 L612.8,583.2 L613.5,581.3 L614.1,579.4 L614.8,577.5 L615.5,575.7 L616.1,573.8 L616.8,571.9 L617.5,570.0 L618.1,568.1 L618.8,566.2 L619.5,564.3 L620.1,562.4 L620.8,560.6 L621.5,558.7 L622.1,556.8 L622.8,554.9 L623.5,553.0 L624.2,551.1 L624.8,549.2 L625.5,547.3 L626.2,545.5 L626.9,543.6 L627.5,541.7 L628.2,539.8 L628.9,537.9 L629.6,536.0 L630.3,534.1 L630.9,532.3 L631.6,530.4 L632.3,528.5 L633.0,526.6 L633.7,524.7 L634.4,522.8 L635.1,521.0 L635.7,519.1 L636.4,517.2 L637.1,515.3 L637.8,513.4 L638.5,511.5 L639.2,509.7 L639.9,507.8 L640.6,505.9 L641.3,504.0 L641.9,502.1 L642.6,500.2 L643.3,498.4 L644.0,496.5 L644.7,494.6 L645.4,492.7 L646.1,490.8 L646.8,488.9 L647.5,487.1 L648.2,485.2 L648.9,483.3 L649.6,481.4 L650.3,479.5 L651.0,477.7 L651.7,475.8 L652.4,473.9 L653.1,472.0 L653.8,470.1 L654.5,468.3 L655.2,466.4 L656.0,464.5 L656.7,462.6 L657.4,460.8 L658.1,458.9 L658.8,457.0 L659.5,455.1 L660.2,453.2 L660.9,451.4 L661.6,449.5 L662.4,447.6 L663.1,445.7 L663.8,443.9 L664.5,442.0 L665.2,440.1 L665.9,438.2 L666.7,436.4 L667.4,434.5 L668.1,432.6 L668.8,430.7 L669.5,428.9 L670.3,427.0 L671.0,425.1 L671.7,423.3 L672.4,421.4 L673.1,419.5 L673.9,417.6 L674.6,415.8 L675.3,413.9 L676.1,412.0 L676.8,410.2 L677.5,408.3 L678.2,406.4 L679.0,404.6 L679.7,402.7 L680.4,400.8 L681.2,399.0 L681.9,397.1 L682.6,395.2 L683.4,393.4 L684.1,391.5 L684.8,389.6 L685.6,387.8 L686.3,385.9 L687.1,384.0 L687.8,382.2 L688.5,380.3 L689.3,378.5 L690.0,376.6 L690.8,374.7 L691.5,372.9 L692.2,371.0 L693.0,369.2 L693.7,367.3 L694.5,365.4 L695.2,363.6 L696.0,361.7 L696.7,359.9 L697.5,358.0" stroke="#9dd898" stroke-width="7.2"/>
<path d="M127.4,886.3 L128.0,884.5 L128.7,882.7 L129.3,880.8 L130.0,879.0 L130.7,877.2 L131.4,875.3 L132.1,873.5 L132.8,871.6 L133.6,869.8 L134.3,867.9 L135.1,866.1 L135.9,864.2 L136.6,862.3 L137.5,860.5 L138.3,858.7 L139.1,856.8 L140.0,855.0 L140.8,853.1 L141.7,851.3 L142.6,849.5 L143.5,847.7 L144.4,845.8 L145.4,844.0 L146.3,842.3 L147.3,840.5 L148.3,838.7 L149.3,836.9 L150.3,835.2 L151.4,833.4 L152.5,831.7 L153.5,830.0 L154.6,828.3 L155.7,826.6 L156.9,824.9 L158.0,823.2 L159.2,821.6 L160.4,820.0 L161.6,818.4 L162.8,816.8 L164.1,815.2 L165.3,813.6 L166.6,812.1 L167.9,810.6 L169.2,809.1 L170.6,807.6 L172.0,806.2 L173.3,804.8 L174.8,803.4 L176.2,802.0 L177.6,800.6 L179.1,799.3 L180.6,798.0 L182.1,796.7 L183.7,795.5 L185.2,794.2 L186.8,793.0 L188.4,791.9 L190.0,790.7 L191.6,789.6 L193.3,788.5 L195.0,787.4 L196.6,786.4 L198.3,785.4 L200.1,784.4 L201.8,783.4 L203.5,782.4 L205.3,781.5 L207.1,780.6 L208.9,779.7 L210.7,778.8 L212.5,778.0 L214.3,777.2 L216.2,776.4 L218.0,775.6 L219.9,774.8 L221.8,774.1 L223.7,773.4 L225.6,772.7 L227.5,772.0 L229.4,771.3 L231.3,770.7 L233.2,770.1 L235.2,769.5 L237.1,768.9 L239.1,768.4 L241.0,767.8 L243.0,767.3 L245.0,766.8 L247.0,766.3 L248.9,765.9 L250.9,765.4 L252.9,765.0 L254.9,764.6 L256.9,764.2 L258.9,763.8 L260.9,763.4 L262.9,763.1 L264.9,762.8 L266.9,762.5 L268.9,762.2 L270.9,761.9 L272.9,761.6 L274.9,761.4 L276.9,761.1 L278.9,760.9 L280.8,760.7 L282.8,760.5 L284.8,760.3 L286.8,760.2 L288.8,760.1 L290.8,760.0 L292.8,759.9 L294.7,759.8 L296.7,759.8 L298.7,759.7 L300.7,759.7 L302.6,759.7 L304.6,759.8 L306.6,759.8 L308.5,759.9 L310.5,760.1 L312.5,760.2 L314.4,760.4 L316.4,760.6 L318.3,760.8 L320.3,761.0 L322.3,761.3 L324.2,761.6 L326.2,761.9 L328.1,762.3 L330.1,762.7 L332.0,763.1 L333.9,763.6 L335.9,764.0 L337.8,764.6 L339.8,765.1 L341.7,765.7 L343.6,766.3 L345.6,767.0 L347.5,767.6 L349.4,768.3 L351.4,769.0 L353.3,769.8 L355.2,770.5 L357.1,771.3 L359.1,772.0 L361.0,772.8 L363.0,773.5 L364.9,774.3 L366.8,775.1 L368.8,775.8 L370.7,776.6 L372.7,777.3 L374.6,778.1 L376.6,778.8 L378.6,779.5 L380.5,780.1 L382.5,780.8 L384.5,781.4 L386.5,782.0 L388.5,782.5 L390.5,783.0 L392.5,783.5 L394.5,783.9 L396.5,784.3 L398.5,784.5 L400.5,784.7 L402.4,784.8 L404.3,784.8 L406.1,784.7 L407.8,784.4 L409.5,783.9 L411.0,783.3 L412.5,782.5 L413.9,781.6 L415.1,780.4 L416.3,779.2 L417.4,777.8 L418.4,776.2 L419.4,774.6 L420.3,772.9 L421.2,771.1 L422.1,769.3 L422.9,767.5 L423.7,765.6 L424.4,763.7 L425.2,761.8 L426.0,759.9 L426.7,758.0 L427.5,756.1 L428.2,754.2 L428.9,752.3 L429.6,750.4 L430.4,748.5 L431.1,746.6 L431.8,744.6 L432.5,742.7 L433.1,740.8 L433.8,738.9 L434.5,737.0 L435.2,735.1 L435.8,733.2 L436.5,731.2 L437.1,729.3 L437.8,727.4 L438.4,725.5 L439.1,723.6 L439.7,721.7 L440.3,719.7 L440.9,717.8 L441.6,715.9 L442.2,714.0 L442.8,712.1 L443.4,710.1 L444.0,708.2 L444.6,706.3 L445.2,704.4 L445.8,702.4 L446.4,700.5 L447.0,698.6 L447.5,696.7 L448.1,694.7 L448.7,692.8 L449.3,690.9 L449.9,689.0 L450.4,687.0 L451.0,685.1 L451.6,683.2 L452.2,681.3 L452.7,679.3 L453.3,677.4 L453.9,675.5 L454.4,673.6 L455.0,671.6 L455.6,669.7 L456.1,667.8 L456.7,665.9 L457.3,663.9 L457.9,662.0 L458.4,660.1 L459.0,658.2 L459.6,656.3 L460.2,654.3 L460.7,652.4 L461.3,650.5 L461.9,648.6 L462.5,646.7 L463.1,644.8 L463.7,642.8 L464.3,640.9 L464.9,639.0 L465.5,637.1 L466.1,635.2 L466.7,633.3 L467.3,631.4 L467.9,629.5 L468.5,627.6 L469.1,625.6 L469.7,623.7 L470.3,621.8 L471.0,619.9 L471.6,618.0 L472.2,616.1 L472.8,614.2 L473.5,612.3 L474.1,610.4 L474.8,608.5 L475.4,606.6 L476.0,604.7 L476.7,602.8 L477.3,600.9 L478.0,599.0 L478.6,597.2 L479.3,595.3 L479.9,593.4 L480.6,591.5 L481.3,589.6 L481.9,587.7 L482.6,585.8 L483.3,583.9 L483.9,582.0 L484.6,580.1 L485.3,578.2 L486.0,576.4 L486.6,574.5 L487.3,572.6 L488.0,570.7 L488.7,568.8 L489.4,566.9 L490.1,565.1 L490.7,563.2 L491.4,561.3 L492.1,559.4 L492.8,557.5 L493.5,555.6 L494.2,553.8 L494.9,551.9 L495.6,550.0 L496.3,548.1 L497.0,546.3 L497.7,544.4 L498.5,542.5 L499.2,540.6 L499.9,538.8 L500.6,536.9 L501.3,535.0 L502.0,533.1 L502.7,531.3 L503.5,529.4 L504.2,527.5 L504.9,525.6 L505.6,523.8 L506.3,521.9 L507.1,520.0 L507.8,518.2 L508.5,516.3 L509.2,514.4 L510.0,512.6 L510.7,510.7 L511.4,508.8 L512.2,506.9 L512.9,505.1 L513.6,503.2 L514.4,501.3 L515.1,499.5 L515.9,497.6 L516.6,495.7 L517.3,493.9 L518.1,492.0 L518.8,490.1 L519.6,488.3 L520.3,486.4 L521.0,484.6 L521.8,482.7 L522.5,480.8 L523.3,479.0 L524.0,477.1 L524.8,475.2 L525.5,473.4 L526.3,471.5 L527.0,469.6 L527.8,467.8 L528.5,465.9 L529.3,464.1 L530.0,462.2 L530.8,460.3 L531.5,458.5 L532.3,456.6 L533.0,454.8 L533.8,452.9 L534.5,451.0 L535.3,449.2 L536.0,447.3 L536.8,445.5 L537.5,443.6 L538.3,441.7 L539.0,439.9 L539.8,438.0 L540.5,436.1 L541.3,434.3 L542.0,432.4 L542.8,430.6 L543.5,428.7 L544.3,426.8 L545.0,425.0 L545.8,423.1 L546.5,421.3 L547.3,419.4 L548.1,417.5 L548.8,415.7 L549.6,413.8 L550.3,412.0 L551.1,410.1 L551.8,408.2 L552.6,406.4 L553.3,404.5 L554.1,402.7 L554.8,400.8 L555.5,398.9 L556.3,397.1 L557.0,395.2 L557.8,393.4 L558.5,391.5 L559.3,389.6 L560.0,387.8 L560.8,385.9 L561.5,384.0 L562.3,382.2 L563.0,380.3 L563.7,378.5 L564.5,376.6 L565.2,374.7 L565.9,372.9 L566.7,371.0 L567.4,369.1 L568.2,367.3 L568.9,365.4 L569.6,363.5 L570.4,361.7 L571.1,359.8 L571.8,357.9" stroke="#c3eabd" stroke-width="7.2"/>
</g>
<rect x="369.5" y="770.4" width="14" height="14" fill="#000"/>
<rect x="459.3" y="702.7" width="14" height="14" fill="#000"/>
<rect x="534.9" y="623.4" width="14" height="14" fill="#000"/>
<rect x="551.2" y="603.3" width="14" height="14" fill="#000"/>
<rect x="562.8" y="592.2" width="14" height="14" fill="#000"/>
<circle cx="464.3" cy="641.4" r="7.6" fill="#000"/>
<circle cx="620.4" cy="560.0" r="7.6" fill="#000"/>
<circle cx="798.1" cy="428.4" r="7.6" fill="#000"/>
<circle cx="862.8" cy="367.0" r="7.6" fill="#000"/>
<rect x="598" y="419" width="143" height="97" fill="#fff"/>
<path d="M673.7,516.8 L708.5,587.1" stroke="#000" stroke-width="2.5"/>
<rect x="119.5" y="360.5" width="844.0" height="530.5" fill="none" stroke="#000" stroke-width="3" stroke-linejoin="round"/>
<path d="M180.2,891 v-8 M240.4,891 v-16 M300.6,891 v-8 M360.8,891 v-16 M421.0,891 v-8 M481.2,891 v-16 M541.4,891 v-8 M601.6,891 v-16 M661.8,891 v-8 M722.0,891 v-16 M782.2,891 v-8 M842.4,891 v-16 M902.6,891 v-8 M119.5,830.8 h8 M119.5,770.6 h16 M119.5,710.4 h8 M119.5,650.2 h16 M119.5,590.0 h8 M119.5,529.8 h16 M119.5,469.6 h8 M119.5,409.4 h16" stroke="#000" stroke-width="3" fill="none"/>
<text x="87.49" y="899.6" font-size="24.5" textLength="13.01" lengthAdjust="spacingAndGlyphs">0</text>
<text x="74.47" y="779.2" font-size="24.5" textLength="26.03" lengthAdjust="spacingAndGlyphs">50</text>
<text x="61.46" y="658.8" font-size="24.5" textLength="39.04" lengthAdjust="spacingAndGlyphs">100</text>
<text x="61.46" y="538.4" font-size="24.5" textLength="39.04" lengthAdjust="spacingAndGlyphs">150</text>
<text x="61.46" y="418.0" font-size="24.5" textLength="39.04" lengthAdjust="spacingAndGlyphs">200</text>
<text x="113.49" y="927.7" font-size="24.5" textLength="13.01" lengthAdjust="spacingAndGlyphs">0</text>
<text x="227.39" y="927.7" font-size="24.5" textLength="26.03" lengthAdjust="spacingAndGlyphs">50</text>
<text x="341.28" y="927.7" font-size="24.5" textLength="39.04" lengthAdjust="spacingAndGlyphs">100</text>
<text x="461.68" y="927.7" font-size="24.5" textLength="39.04" lengthAdjust="spacingAndGlyphs">150</text>
<text x="582.08" y="927.7" font-size="24.5" textLength="39.04" lengthAdjust="spacingAndGlyphs">200</text>
<text x="702.48" y="927.7" font-size="24.5" textLength="39.04" lengthAdjust="spacingAndGlyphs">250</text>
<text x="822.88" y="927.7" font-size="24.5" textLength="39.04" lengthAdjust="spacingAndGlyphs">300</text>
<text x="943.28" y="927.7" font-size="24.5" textLength="39.04" lengthAdjust="spacingAndGlyphs">350</text>
<text x="437.5" y="979" font-size="35.5" textLength="208" lengthAdjust="spacingAndGlyphs">Re(Z) / Ωcm<tspan font-size="20" dy="-16">2</tspan></text>
<g transform="translate(47.7,734) rotate(-90)"><text x="0" y="0" font-size="35.5" textLength="215" lengthAdjust="spacingAndGlyphs">-Im(Z) / Ωcm<tspan font-size="20" dy="-16">2</tspan></text></g>
<text x="15.41" y="388.4" font-size="39" textLength="22.38" lengthAdjust="spacingAndGlyphs" stroke="#000" stroke-width="0.5">b</text>
<text x="41.25" y="388.2" font-size="40.5" textLength="8.79" lengthAdjust="spacingAndGlyphs" stroke="#000" stroke-width="0.4">)</text>
<text x="126.97" y="391.5" font-size="29" textLength="63.50" lengthAdjust="spacingAndGlyphs" >LP57</text>
<text x="193.5" y="391.5" font-size="29">,</text>
<text x="208.37" y="391.5" font-size="29" textLength="36.11" lengthAdjust="spacingAndGlyphs" >Cu</text>
<path d="M127,395.8 H244.5" stroke="#000" stroke-width="1.8"/>
<text x="299.99" y="391.5" font-size="29" textLength="138.85" lengthAdjust="spacingAndGlyphs" >2 V before</text>
<text x="301.04" y="430.5" font-size="29" textLength="134.04" lengthAdjust="spacingAndGlyphs" >formation</text>
<text x="602.87" y="458.5" font-size="29" textLength="115.04" lengthAdjust="spacingAndGlyphs" >2 V after</text>
<text x="603.95" y="497.7" font-size="29" textLength="133.64" lengthAdjust="spacingAndGlyphs" >formation</text>
<text x="826.96" y="504.7" font-size="29" textLength="65.67" lengthAdjust="spacingAndGlyphs" >1.4 V</text>
<text x="687.76" y="662.5" font-size="29" textLength="42.16" lengthAdjust="spacingAndGlyphs" >1 V</text>
<text x="501.65" y="759.8" font-size="29" textLength="68.47" lengthAdjust="spacingAndGlyphs" >0.6 V</text>
<text x="376.87" y="823" font-size="29" textLength="67.56" lengthAdjust="spacingAndGlyphs" >0.2 V</text>
<rect x="803" y="785.5" width="25" height="26" fill="none" stroke="#000" stroke-width="2.2"/>
<circle cx="815.2" cy="840.4" r="13" fill="none" stroke="#000" stroke-width="2.2"/>
<text x="849.66" y="807.8" font-size="29" textLength="93.10" lengthAdjust="spacingAndGlyphs" >100 Hz</text>
<text x="868.31" y="852.8" font-size="29" textLength="75.02" lengthAdjust="spacingAndGlyphs" >10 Hz</text>
<g clip-path="url(#cc)" fill="none" stroke-linecap="round" stroke-linejoin="round">
<path d="M136.8,1542.7 L137.9,1541.0 L139.0,1539.4 L140.1,1537.7 L141.1,1536.1 L142.2,1534.4 L143.2,1532.7 L144.3,1531.0 L145.3,1529.3 L146.3,1527.6 L147.3,1525.9 L148.3,1524.1 L149.3,1522.4 L150.3,1520.7 L151.3,1518.9 L152.3,1517.2 L153.3,1515.4 L154.3,1513.7 L155.2,1511.9 L156.2,1510.1 L157.2,1508.4 L158.2,1506.6 L159.1,1504.8 L160.1,1503.1 L161.1,1501.3 L162.1,1499.5 L163.0,1497.7 L164.0,1496.0 L165.0,1494.2 L166.0,1492.5 L167.0,1490.7 L168.0,1488.9 L169.0,1487.2 L170.0,1485.4 L171.0,1483.7 L172.0,1481.9 L173.1,1480.2 L174.1,1478.5 L175.2,1476.8 L176.2,1475.0 L177.3,1473.3 L178.4,1471.6 L179.5,1469.9 L180.6,1468.3 L181.7,1466.6 L182.8,1464.9 L183.9,1463.3 L185.1,1461.6 L186.2,1460.0 L187.4,1458.4 L188.6,1456.7 L189.8,1455.1 L191.0,1453.6 L192.2,1452.0 L193.4,1450.4 L194.7,1448.9 L196.0,1447.3 L197.2,1445.8 L198.5,1444.3 L199.8,1442.8 L201.1,1441.3 L202.5,1439.8 L203.8,1438.4 L205.2,1436.9 L206.6,1435.5 L208.0,1434.1 L209.4,1432.7 L210.8,1431.3 L212.3,1430.0 L213.7,1428.6 L215.2,1427.3 L216.7,1425.9 L218.2,1424.6 L219.7,1423.3 L221.2,1422.1 L222.7,1420.8 L224.2,1419.5 L225.8,1418.2 L227.3,1417.0 L228.9,1415.7 L230.4,1414.5 L232.0,1413.3 L233.6,1412.0 L235.1,1410.8 L236.7,1409.6 L238.3,1408.4 L239.9,1407.2 L241.5,1406.0 L243.1,1404.9 L244.7,1403.7 L246.3,1402.5 L248.0,1401.4 L249.6,1400.2 L251.2,1399.1 L252.9,1397.9 L254.5,1396.8 L256.2,1395.7 L257.8,1394.6 L259.5,1393.5 L261.2,1392.3 L262.8,1391.3 L264.5,1390.2 L266.2,1389.1 L267.9,1388.0 L269.6,1386.9 L271.3,1385.9 L273.0,1384.8 L274.7,1383.8 L276.4,1382.7 L278.1,1381.7 L279.8,1380.6 L281.5,1379.6 L283.3,1378.6 L285.0,1377.6 L286.7,1376.6 L288.5,1375.6 L290.2,1374.6 L292.0,1373.6 L293.7,1372.6 L295.5,1371.6 L297.2,1370.7 L299.0,1369.7 L300.8,1368.7 L302.5,1367.8 L304.3,1366.8 L306.1,1365.9 L307.9,1365.0 L309.6,1364.0 L311.4,1363.1 L313.2,1362.2 L315.0,1361.3 L316.8,1360.4 L318.6,1359.5 L320.4,1358.6 L322.2,1357.7 L324.0,1356.8 L325.8,1355.9 L327.7,1355.0 L329.5,1354.2 L331.3,1353.3 L333.1,1352.4 L334.9,1351.6 L336.8,1350.7 L338.6,1349.9 L340.4,1349.1 L342.3,1348.2 L344.1,1347.4 L346.0,1346.6 L347.8,1345.8 L349.7,1345.0 L351.5,1344.2 L353.4,1343.4 L355.2,1342.6 L357.1,1341.8 L358.9,1341.0 L360.8,1340.3 L362.7,1339.5 L364.5,1338.8 L366.4,1338.0 L368.3,1337.3 L370.1,1336.5 L372.0,1335.8 L373.9,1335.1 L375.8,1334.4 L377.7,1333.7 L379.5,1333.0 L381.4,1332.3 L383.3,1331.6 L385.2,1330.9 L387.1,1330.2 L389.0,1329.6 L390.9,1328.9 L392.8,1328.3 L394.7,1327.6 L396.6,1327.0 L398.5,1326.4 L400.4,1325.8 L402.3,1325.2 L404.2,1324.6 L406.2,1324.0 L408.1,1323.4 L410.0,1322.8 L411.9,1322.2 L413.8,1321.7 L415.8,1321.1 L417.7,1320.6 L419.6,1320.1 L421.6,1319.5 L423.5,1319.0 L425.4,1318.5 L427.4,1318.0 L429.3,1317.5 L431.2,1317.0 L433.2,1316.6 L435.1,1316.1 L437.1,1315.7 L439.0,1315.2 L441.0,1314.8 L442.9,1314.3 L444.9,1313.9 L446.8,1313.5 L448.8,1313.1 L450.7,1312.7 L452.7,1312.4 L454.6,1312.0 L456.6,1311.6 L458.6,1311.3 L460.5,1310.9 L462.5,1310.6 L464.4,1310.3 L466.4,1310.0 L468.4,1309.7 L470.4,1309.4 L472.3,1309.1 L474.3,1308.8 L476.3,1308.6 L478.2,1308.3 L480.2,1308.1 L482.2,1307.9 L484.2,1307.6 L486.2,1307.4 L488.1,1307.2 L490.1,1307.1 L492.1,1306.9 L494.1,1306.7 L496.1,1306.6 L498.1,1306.4 L500.1,1306.3 L502.0,1306.2 L504.0,1306.1 L506.0,1306.0 L508.0,1305.9 L510.0,1305.8 L512.0,1305.8 L514.0,1305.7 L516.0,1305.7 L518.0,1305.7 L520.0,1305.6 L522.0,1305.6 L524.0,1305.6 L526.0,1305.7 L528.0,1305.7 L530.0,1305.7 L532.0,1305.8 L534.0,1305.9 L536.0,1305.9 L538.0,1306.0 L540.0,1306.1 L542.0,1306.2 L544.0,1306.3 L546.0,1306.5 L548.0,1306.6 L550.0,1306.7 L552.1,1306.9 L554.1,1307.0 L556.1,1307.2 L558.1,1307.3 L560.1,1307.5 L562.1,1307.6 L564.1,1307.8 L566.1,1308.0 L568.1,1308.1 L570.2,1308.3 L572.2,1308.5 L574.2,1308.7 L576.2,1308.9 L578.2,1309.1 L580.2,1309.2 L582.2,1309.4 L584.3,1309.6 L586.3,1309.8 L588.3,1310.0 L590.3,1310.1 L592.3,1310.3 L594.3,1310.5 L596.4,1310.7 L598.4,1310.8 L600.4,1311.0 L602.4,1311.1 L604.4,1311.3 L606.4,1311.4 L608.5,1311.6 L610.5,1311.7 L612.5,1311.9 L614.5,1312.0 L616.5,1312.1 L618.5,1312.2 L620.6,1312.3 L622.6,1312.4 L624.6,1312.5 L626.6,1312.5 L628.6,1312.6 L630.6,1312.6 L632.6,1312.7 L634.7,1312.7 L636.7,1312.7 L638.7,1312.7 L640.7,1312.7 L642.7,1312.7 L644.7,1312.6 L646.7,1312.6 L648.8,1312.5 L650.8,1312.4 L652.8,1312.3 L654.8,1312.2 L656.8,1312.1 L658.8,1311.9 L660.8,1311.8 L662.8,1311.6 L664.8,1311.4 L666.8,1311.2 L668.8,1311.0 L670.8,1310.7 L672.8,1310.5 L674.7,1310.2 L676.7,1309.9 L678.7,1309.5 L680.7,1309.2 L682.6,1308.9 L684.6,1308.5 L686.5,1308.1 L688.4,1307.7 L690.4,1307.2 L692.3,1306.8 L694.2,1306.3 L696.1,1305.8 L698.0,1305.3 L699.9,1304.7 L701.8,1304.1 L703.7,1303.6 L705.6,1302.9 L707.4,1302.3 L709.3,1301.7 L711.1,1301.0 L712.9,1300.3 L714.8,1299.5 L716.6,1298.8 L718.4,1298.0 L720.1,1297.2 L721.9,1296.4 L723.7,1295.5 L725.4,1294.7 L727.2,1293.8 L728.9,1292.8 L730.6,1291.9 L732.3,1290.9 L734.0,1289.9 L735.6,1288.8 L737.3,1287.8 L738.9,1286.7 L740.5,1285.6 L742.1,1284.4 L743.7,1283.2 L745.3,1282.0 L746.9,1280.8 L748.4,1279.6 L749.9,1278.3 L751.5,1277.0 L753.0,1275.7 L754.5,1274.3 L755.9,1272.9 L757.4,1271.6 L758.9,1270.2 L760.3,1268.7 L761.7,1267.3 L763.1,1265.8 L764.5,1264.4 L765.9,1262.9 L767.3,1261.4 L768.7,1259.8 L770.0,1258.3 L771.3,1256.7 L772.7,1255.2 L774.0,1253.6 L775.3,1252.0 L776.6,1250.4 L777.9,1248.8 L779.1,1247.2 L780.4,1245.6 L781.7,1243.9 L782.9,1242.3 L784.1,1240.6 L785.3,1239.0 L786.6,1237.3 L787.8,1235.7 L788.9,1234.0 L790.1,1232.3 L791.3,1230.7 L792.5,1229.0 L793.6,1227.3 L794.8,1225.6 L795.9,1224.0 L797.0,1222.3 L798.2,1220.6 L799.3,1218.9 L800.4,1217.3 L801.5,1215.6 L802.6,1213.9 L803.7,1212.2 L804.7,1210.5 L805.8,1208.9 L806.9,1207.2 L807.9,1205.5 L809.0,1203.8 L810.0,1202.1 L811.1,1200.4 L812.1,1198.8 L813.2,1197.1 L814.2,1195.4 L815.2,1193.7 L816.3,1192.0 L817.3,1190.3 L818.3,1188.6 L819.3,1186.9 L820.3,1185.2 L821.3,1183.5 L822.4,1181.8 L823.4,1180.1 L824.4,1178.4 L825.4,1176.7 L826.4,1175.0 L827.4,1173.3 L828.4,1171.6 L829.4,1169.9 L830.4,1168.2 L831.4,1166.4 L832.4,1164.7 L833.4,1163.0 L834.3,1161.3 L835.3,1159.5 L836.3,1157.8 L837.3,1156.1 L838.3,1154.4 L839.3,1152.6 L840.3,1150.9 L841.3,1149.2 L842.3,1147.4 L843.3,1145.7 L844.3,1144.0 L845.3,1142.2 L846.2,1140.5 L847.2,1138.7 L848.2,1137.0 L849.2,1135.2 L850.2,1133.5 L851.2,1131.8 L852.2,1130.0 L853.1,1128.3 L854.1,1126.5 L855.1,1124.8 L856.1,1123.0 L857.1,1121.3 L858.1,1119.5 L859.0,1117.7 L860.0,1116.0 L861.0,1114.2 L862.0,1112.5 L863.0,1110.7 L863.9,1109.0 L864.9,1107.2 L865.9,1105.5 L866.9,1103.7 L867.9,1101.9 L868.8,1100.2 L869.8,1098.4 L870.8,1096.7 L871.8,1094.9 L872.7,1093.1 L873.7,1091.4 L874.7,1089.6 L875.7,1087.9 L876.7,1086.1 L877.6,1084.3 L878.6,1082.6 L879.6,1080.8 L880.6,1079.1 L881.6,1077.3 L882.5,1075.5 L883.5,1073.8 L884.5,1072.0 L885.5,1070.3 L886.4,1068.5 L887.4,1066.8 L888.4,1065.0 L889.4,1063.2 L890.4,1061.5 L891.3,1059.7 L892.3,1058.0 L893.3,1056.2 L894.3,1054.5 L895.3,1052.7 L896.2,1051.0 L897.2,1049.2 L898.2,1047.5 L899.2,1045.7 L900.2,1044.0 L901.2,1042.2 L902.1,1040.5 L903.1,1038.7 L904.1,1037.0 L905.1,1035.3 L906.1,1033.5 L907.1,1031.8 L908.0,1030.0 L909.0,1028.3 L910.0,1026.6 L911.0,1024.8 L912.0,1023.1 L913.0,1021.4 L914.0,1019.6 L915.0,1017.9 L916.0,1016.2 L916.9,1014.5 L917.9,1012.7 L918.9,1011.0" stroke="#880000" stroke-width="7.6"/>
<path d="M137.3,1543.0 L138.2,1541.2 L139.1,1539.4 L140.0,1537.7 L140.9,1535.9 L141.9,1534.1 L142.8,1532.4 L143.7,1530.6 L144.7,1528.8 L145.6,1527.1 L146.6,1525.3 L147.5,1523.6 L148.5,1521.8 L149.5,1520.0 L150.5,1518.3 L151.5,1516.5 L152.4,1514.8 L153.4,1513.1 L154.5,1511.3 L155.5,1509.6 L156.5,1507.9 L157.5,1506.1 L158.6,1504.4 L159.6,1502.7 L160.7,1501.0 L161.7,1499.3 L162.8,1497.6 L163.9,1495.9 L165.0,1494.2 L166.0,1492.5 L167.1,1490.8 L168.3,1489.1 L169.4,1487.5 L170.5,1485.8 L171.6,1484.2 L172.8,1482.5 L173.9,1480.9 L175.1,1479.2 L176.3,1477.6 L177.5,1476.0 L178.7,1474.4 L179.9,1472.8 L181.1,1471.2 L182.3,1469.6 L183.5,1468.0 L184.8,1466.5 L186.0,1464.9 L187.3,1463.4 L188.6,1461.8 L189.8,1460.3 L191.1,1458.8 L192.4,1457.3 L193.8,1455.8 L195.1,1454.3 L196.4,1452.8 L197.8,1451.3 L199.1,1449.9 L200.5,1448.4 L201.9,1447.0 L203.3,1445.6 L204.7,1444.2 L206.1,1442.8 L207.5,1441.4 L209.0,1440.0 L210.4,1438.6 L211.9,1437.3 L213.4,1435.9 L214.9,1434.6 L216.4,1433.3 L217.9,1432.0 L219.4,1430.7 L221.0,1429.4 L222.5,1428.2 L224.1,1426.9 L225.6,1425.7 L227.2,1424.5 L228.8,1423.3 L230.4,1422.1 L232.0,1420.9 L233.6,1419.7 L235.2,1418.5 L236.9,1417.4 L238.5,1416.3 L240.2,1415.1 L241.8,1414.0 L243.5,1412.9 L245.2,1411.9 L246.9,1410.8 L248.6,1409.7 L250.3,1408.7 L252.0,1407.7 L253.7,1406.7 L255.5,1405.7 L257.2,1404.7 L259.0,1403.7 L260.7,1402.8 L262.5,1401.8 L264.3,1400.9 L266.0,1400.0 L267.8,1399.1 L269.6,1398.2 L271.4,1397.4 L273.2,1396.5 L275.1,1395.7 L276.9,1394.9 L278.7,1394.1 L280.6,1393.3 L282.4,1392.5 L284.3,1391.7 L286.1,1391.0 L288.0,1390.2 L289.9,1389.5 L291.7,1388.8 L293.6,1388.1 L295.5,1387.5 L297.4,1386.8 L299.3,1386.2 L301.2,1385.6 L303.1,1385.0 L305.0,1384.4 L307.0,1383.8 L308.9,1383.2 L310.8,1382.7 L312.8,1382.2 L314.7,1381.6 L316.6,1381.1 L318.6,1380.7 L320.5,1380.2 L322.5,1379.7 L324.5,1379.3 L326.4,1378.9 L328.4,1378.5 L330.4,1378.1 L332.4,1377.7 L334.3,1377.4 L336.3,1377.0 L338.3,1376.7 L340.3,1376.4 L342.3,1376.1 L344.3,1375.8 L346.3,1375.5 L348.3,1375.2 L350.3,1375.0 L352.3,1374.8 L354.3,1374.6 L356.3,1374.4 L358.3,1374.2 L360.3,1374.0 L362.3,1373.8 L364.3,1373.7 L366.3,1373.6 L368.3,1373.4 L370.3,1373.3 L372.3,1373.2 L374.3,1373.2 L376.3,1373.1 L378.3,1373.1 L380.3,1373.0 L382.3,1373.0 L384.3,1373.0 L386.3,1373.0 L388.4,1373.0 L390.4,1373.0 L392.4,1373.1 L394.4,1373.1 L396.4,1373.2 L398.3,1373.3 L400.3,1373.4 L402.3,1373.5 L404.3,1373.6 L406.3,1373.7 L408.3,1373.8 L410.3,1374.0 L412.3,1374.2 L414.2,1374.3 L416.2,1374.5 L418.2,1374.7 L420.2,1374.9 L422.1,1375.2 L424.1,1375.4 L426.0,1375.7 L428.0,1375.9 L430.0,1376.2 L431.9,1376.5 L433.9,1376.8 L435.8,1377.2 L437.8,1377.5 L439.7,1377.9 L441.7,1378.2 L443.6,1378.6 L445.6,1379.0 L447.5,1379.5 L449.4,1379.9 L451.4,1380.3 L453.3,1380.8 L455.2,1381.3 L457.2,1381.8 L459.1,1382.3 L461.0,1382.8 L463.0,1383.4 L464.9,1384.0 L466.8,1384.5 L468.7,1385.1 L470.6,1385.8 L472.6,1386.4 L474.5,1387.1 L476.4,1387.7 L478.3,1388.4 L480.2,1389.1 L482.1,1389.9 L484.0,1390.6 L485.9,1391.4 L487.9,1392.2 L489.8,1393.0 L491.7,1393.8 L493.6,1394.6 L495.5,1395.5 L497.4,1396.3 L499.3,1397.2 L501.2,1398.1 L503.1,1399.0 L505.0,1399.9 L506.9,1400.7 L508.8,1401.6 L510.6,1402.5 L512.5,1403.3 L514.4,1404.2 L516.3,1405.0 L518.2,1405.9 L520.1,1406.7 L522.0,1407.4 L523.9,1408.2 L525.8,1408.9 L527.7,1409.6 L529.6,1410.3 L531.5,1410.9 L533.4,1411.5 L535.3,1412.0 L537.2,1412.5 L539.1,1413.0 L541.0,1413.4 L542.9,1413.8 L544.8,1414.1 L546.7,1414.3 L548.6,1414.5 L550.5,1414.6 L552.4,1414.7 L554.3,1414.7 L556.2,1414.6 L558.0,1414.5 L559.9,1414.3 L561.8,1414.0 L563.7,1413.7 L565.5,1413.3 L567.3,1412.8 L569.1,1412.2 L570.9,1411.6 L572.6,1410.9 L574.4,1410.1 L576.1,1409.2 L577.7,1408.3 L579.3,1407.3 L580.9,1406.2 L582.5,1405.1 L584.0,1403.9 L585.5,1402.6 L587.0,1401.3 L588.4,1400.0 L589.8,1398.6 L591.2,1397.1 L592.5,1395.6 L593.8,1394.1 L595.1,1392.5 L596.4,1390.9 L597.6,1389.2 L598.9,1387.6 L600.1,1385.9 L601.3,1384.2 L602.4,1382.4 L603.6,1380.7 L604.7,1378.9 L605.8,1377.1 L606.9,1375.4 L608.0,1373.6 L609.1,1371.8 L610.2,1370.0 L611.3,1368.2 L612.3,1366.5 L613.4,1364.7 L614.4,1362.9 L615.4,1361.1 L616.5,1359.4 L617.5,1357.6 L618.5,1355.8 L619.5,1354.1 L620.5,1352.3 L621.5,1350.6 L622.4,1348.8 L623.4,1347.0 L624.4,1345.3 L625.3,1343.5 L626.3,1341.7 L627.3,1340.0 L628.2,1338.2 L629.1,1336.5 L630.1,1334.7 L631.0,1333.0 L632.0,1331.2 L632.9,1329.4 L633.8,1327.7 L634.7,1325.9 L635.7,1324.1 L636.6,1322.4 L637.5,1320.6 L638.4,1318.9 L639.4,1317.1 L640.3,1315.3 L641.2,1313.6 L642.1,1311.8 L643.0,1310.0 L643.9,1308.2 L644.9,1306.5 L645.8,1304.7 L646.7,1302.9 L647.6,1301.2 L648.5,1299.4 L649.4,1297.6 L650.3,1295.8 L651.2,1294.1 L652.1,1292.3 L653.1,1290.5 L654.0,1288.7 L654.9,1286.9 L655.8,1285.2 L656.7,1283.4 L657.6,1281.6 L658.5,1279.8 L659.4,1278.0 L660.3,1276.2 L661.2,1274.5 L662.1,1272.7 L663.0,1270.9 L663.9,1269.1 L664.8,1267.3 L665.7,1265.5 L666.6,1263.7 L667.5,1261.9 L668.4,1260.2 L669.3,1258.4 L670.2,1256.6 L671.1,1254.8 L672.0,1253.0 L672.9,1251.2 L673.8,1249.4 L674.7,1247.6 L675.6,1245.8 L676.5,1244.0 L677.4,1242.2 L678.2,1240.4 L679.1,1238.7 L680.0,1236.9 L680.9,1235.1 L681.8,1233.3 L682.7,1231.5 L683.6,1229.7 L684.5,1227.9 L685.4,1226.1 L686.3,1224.3 L687.2,1222.5 L688.1,1220.7 L689.0,1218.9 L689.9,1217.1 L690.8,1215.3 L691.7,1213.5 L692.6,1211.7 L693.5,1209.9 L694.4,1208.1 L695.3,1206.4 L696.2,1204.6 L697.1,1202.8 L698.0,1201.0 L698.9,1199.2 L699.8,1197.4 L700.7,1195.6 L701.6,1193.8 L702.5,1192.0 L703.4,1190.2 L704.3,1188.4 L705.2,1186.6 L706.1,1184.8 L707.0,1183.0 L707.9,1181.2 L708.8,1179.4 L709.7,1177.7 L710.6,1175.9 L711.5,1174.1 L712.5,1172.3 L713.4,1170.5 L714.3,1168.7 L715.2,1166.9 L716.1,1165.1 L717.0,1163.3 L717.9,1161.5 L718.8,1159.8 L719.8,1158.0 L720.7,1156.2 L721.6,1154.4 L722.5,1152.6 L723.4,1150.8 L724.4,1149.0 L725.3,1147.3 L726.2,1145.5 L727.1,1143.7 L728.1,1141.9 L729.0,1140.1 L729.9,1138.3 L730.8,1136.6 L731.8,1134.8 L732.7,1133.0 L733.6,1131.2 L734.6,1129.5 L735.5,1127.7 L736.5,1125.9 L737.4,1124.1 L738.3,1122.4 L739.3,1120.6 L740.2,1118.8 L741.2,1117.0 L742.1,1115.3 L743.1,1113.5 L744.0,1111.7 L745.0,1110.0 L745.9,1108.2 L746.9,1106.4 L747.8,1104.7 L748.8,1102.9 L749.7,1101.1 L750.7,1099.4 L751.7,1097.6 L752.6,1095.9 L753.6,1094.1 L754.6,1092.4 L755.5,1090.6 L756.5,1088.8 L757.5,1087.1 L758.5,1085.3 L759.4,1083.6 L760.4,1081.8 L761.4,1080.1 L762.4,1078.3 L763.4,1076.6 L764.4,1074.9 L765.3,1073.1 L766.3,1071.4 L767.3,1069.6 L768.3,1067.9 L769.3,1066.2 L770.3,1064.4 L771.3,1062.7 L772.3,1060.9 L773.3,1059.2 L774.4,1057.5 L775.4,1055.8 L776.4,1054.0 L777.4,1052.3 L778.4,1050.6 L779.4,1048.9 L780.5,1047.1 L781.5,1045.4 L782.5,1043.7 L783.5,1042.0 L784.6,1040.3 L785.6,1038.6 L786.7,1036.8 L787.7,1035.1 L788.7,1033.4 L789.8,1031.7 L790.8,1030.0 L791.9,1028.3 L792.9,1026.6 L794.0,1024.9 L795.1,1023.2 L796.1,1021.5 L797.2,1019.8 L798.2,1018.1 L799.3,1016.4 L800.4,1014.8 L801.5,1013.1 L802.5,1011.4" stroke="#ff4040" stroke-width="7.6"/>
<path d="M134.0,1537.0 L134.5,1535.0 L135.1,1533.0 L135.6,1531.0 L136.2,1529.0 L136.8,1527.1 L137.4,1525.1 L138.1,1523.2 L138.7,1521.3 L139.4,1519.4 L140.1,1517.4 L140.8,1515.6 L141.5,1513.7 L142.3,1511.8 L143.0,1509.9 L143.8,1508.1 L144.6,1506.3 L145.4,1504.4 L146.2,1502.6 L147.1,1500.8 L148.0,1499.0 L148.8,1497.2 L149.7,1495.4 L150.7,1493.6 L151.6,1491.9 L152.5,1490.1 L153.5,1488.4 L154.4,1486.7 L155.4,1484.9 L156.4,1483.2 L157.4,1481.5 L158.5,1479.8 L159.5,1478.1 L160.6,1476.4 L161.6,1474.7 L162.7,1473.1 L163.8,1471.4 L164.9,1469.8 L166.0,1468.1 L167.2,1466.5 L168.3,1464.9 L169.5,1463.2 L170.6,1461.6 L171.8,1460.0 L173.0,1458.4 L174.2,1456.8 L175.4,1455.3 L176.6,1453.7 L177.8,1452.1 L179.1,1450.5 L180.3,1449.0 L181.6,1447.4 L182.8,1445.9 L184.1,1444.4 L185.4,1442.8 L186.7,1441.3 L188.0,1439.8 L189.3,1438.3 L190.6,1436.8 L191.9,1435.3 L193.3,1433.8 L194.6,1432.3 L195.9,1430.8 L197.3,1429.3 L198.6,1427.9 L200.0,1426.4 L201.4,1424.9 L202.8,1423.5 L204.1,1422.0 L205.5,1420.6 L206.9,1419.2 L208.3,1417.7 L209.7,1416.3 L211.1,1414.9 L212.5,1413.5 L214.0,1412.0 L215.4,1410.6 L216.8,1409.2 L218.3,1407.8 L219.7,1406.4 L221.2,1405.1 L222.6,1403.7 L224.1,1402.3 L225.5,1400.9 L227.0,1399.5 L228.5,1398.2 L230.0,1396.8 L231.4,1395.5 L232.9,1394.1 L234.4,1392.7 L235.9,1391.4 L237.4,1390.1 L238.9,1388.7 L240.4,1387.4 L241.9,1386.1 L243.5,1384.7 L245.0,1383.4 L246.5,1382.1 L248.0,1380.8 L249.6,1379.5 L251.1,1378.2 L252.6,1376.9 L254.2,1375.6 L255.7,1374.3 L257.3,1373.0 L258.8,1371.7 L260.4,1370.4 L261.9,1369.1 L263.5,1367.8 L265.0,1366.6 L266.6,1365.3 L268.2,1364.0 L269.7,1362.7 L271.3,1361.5 L272.9,1360.2 L274.5,1359.0 L276.0,1357.7 L277.6,1356.5 L279.2,1355.2 L280.8,1354.0 L282.4,1352.7 L283.9,1351.5 L285.5,1350.2 L287.1,1349.0 L288.7,1347.8 L290.3,1346.5 L291.9,1345.3 L293.5,1344.1 L295.1,1342.9 L296.7,1341.6 L298.3,1340.4 L299.9,1339.2 L301.5,1338.0 L303.1,1336.8 L304.7,1335.6 L306.3,1334.4 L307.9,1333.2 L309.5,1332.0 L311.2,1330.8 L312.8,1329.6 L314.4,1328.4 L316.0,1327.3 L317.7,1326.1 L319.3,1324.9 L320.9,1323.8 L322.5,1322.6 L324.2,1321.4 L325.8,1320.3 L327.5,1319.2 L329.1,1318.0 L330.8,1316.9 L332.4,1315.7 L334.1,1314.6 L335.7,1313.5 L337.4,1312.4 L339.0,1311.3 L340.7,1310.2 L342.4,1309.1 L344.1,1308.0 L345.7,1306.9 L347.4,1305.8 L349.1,1304.8 L350.8,1303.7 L352.5,1302.6 L354.2,1301.6 L355.9,1300.5 L357.6,1299.5 L359.3,1298.4 L361.0,1297.4 L362.7,1296.4 L364.4,1295.4 L366.1,1294.4 L367.8,1293.4 L369.6,1292.4 L371.3,1291.4 L373.0,1290.4 L374.8,1289.4 L376.5,1288.5 L378.3,1287.5 L380.0,1286.6 L381.8,1285.6 L383.5,1284.7 L385.3,1283.8 L387.1,1282.8 L388.8,1281.9 L390.6,1281.0 L392.4,1280.1 L394.2,1279.3 L396.0,1278.4 L397.8,1277.5 L399.6,1276.7 L401.4,1275.8 L403.2,1275.0 L405.0,1274.1 L406.8,1273.3 L408.7,1272.5 L410.5,1271.7 L412.3,1270.9 L414.2,1270.1 L416.0,1269.3 L417.9,1268.6 L419.7,1267.8 L421.6,1267.1 L423.5,1266.3 L425.3,1265.6 L427.2,1264.9 L429.1,1264.1 L431.0,1263.4 L432.9,1262.7 L434.7,1262.0 L436.6,1261.4 L438.5,1260.7 L440.4,1260.0 L442.3,1259.4 L444.2,1258.7 L446.2,1258.1 L448.1,1257.4 L450.0,1256.8 L451.9,1256.2 L453.8,1255.6 L455.8,1255.0 L457.7,1254.4 L459.6,1253.8 L461.5,1253.2 L463.5,1252.6 L465.4,1252.1 L467.4,1251.5 L469.3,1251.0 L471.3,1250.4 L473.2,1249.9 L475.1,1249.4 L477.1,1248.9 L479.0,1248.3 L481.0,1247.8 L483.0,1247.3 L484.9,1246.9 L486.9,1246.4 L488.8,1245.9 L490.8,1245.4 L492.8,1245.0 L494.7,1244.5 L496.7,1244.1 L498.7,1243.6 L500.6,1243.2 L502.6,1242.8 L504.6,1242.3 L506.5,1241.9 L508.5,1241.5 L510.5,1241.1 L512.4,1240.7 L514.4,1240.3 L516.4,1240.0 L518.3,1239.6 L520.3,1239.2 L522.3,1238.9 L524.3,1238.5 L526.2,1238.2 L528.2,1237.8 L530.2,1237.5 L532.1,1237.2 L534.1,1236.8 L536.1,1236.5 L538.1,1236.2 L540.0,1235.9 L542.0,1235.6 L544.0,1235.3 L546.0,1235.0 L548.0,1234.8 L549.9,1234.5 L551.9,1234.2 L553.9,1234.0 L555.9,1233.7 L557.8,1233.5 L559.8,1233.2 L561.8,1233.0 L563.8,1232.8 L565.8,1232.6 L567.8,1232.4 L569.7,1232.1 L571.7,1231.9 L573.7,1231.8 L575.7,1231.6 L577.7,1231.4 L579.7,1231.2 L581.6,1231.0 L583.6,1230.9 L585.6,1230.7 L587.6,1230.6 L589.6,1230.4 L591.6,1230.3 L593.6,1230.2 L595.5,1230.1 L597.5,1229.9 L599.5,1229.8 L601.5,1229.7 L603.5,1229.6 L605.5,1229.5 L607.5,1229.5 L609.5,1229.4 L611.5,1229.3 L613.5,1229.2 L615.4,1229.2 L617.4,1229.1 L619.4,1229.1 L621.4,1229.0 L623.4,1229.0 L625.4,1229.0 L627.4,1228.9 L629.4,1228.9 L631.4,1228.9 L633.4,1228.9 L635.4,1228.9 L637.4,1228.9 L639.4,1228.9 L641.4,1229.0 L643.4,1229.0 L645.4,1229.0 L647.4,1229.1 L649.4,1229.1 L651.4,1229.2 L653.4,1229.2 L655.4,1229.3 L657.4,1229.3 L659.4,1229.4 L661.4,1229.5 L663.4,1229.6 L665.4,1229.7 L667.4,1229.8 L669.4,1229.9 L671.4,1230.0 L673.4,1230.1 L675.4,1230.2 L677.4,1230.4 L679.4,1230.5 L681.4,1230.7 L683.4,1230.8 L685.4,1231.0 L687.4,1231.1 L689.4,1231.3 L691.4,1231.5 L693.4,1231.6 L695.4,1231.8 L697.5,1232.0 L699.5,1232.2 L701.5,1232.4 L703.5,1232.6 L705.5,1232.8 L707.5,1233.1 L709.5,1233.3 L711.5,1233.5 L713.5,1233.7 L715.5,1234.0 L717.5,1234.2 L719.6,1234.5 L721.6,1234.8 L723.6,1235.0 L725.6,1235.3 L727.6,1235.6 L729.6,1235.9 L731.6,1236.2 L733.7,1236.5 L735.7,1236.8 L737.7,1237.1 L739.7,1237.4 L741.7,1237.7 L743.7,1238.0 L745.7,1238.3 L747.7,1238.6 L749.8,1238.9 L751.8,1239.3 L753.8,1239.6 L755.8,1239.9 L757.8,1240.2 L759.8,1240.6 L761.8,1240.9 L763.9,1241.2 L765.9,1241.5 L767.9,1241.8 L769.9,1242.2 L771.9,1242.5 L773.9,1242.8 L775.9,1243.1 L777.9,1243.4 L779.9,1243.7 L781.9,1244.0 L783.9,1244.3 L785.9,1244.6 L787.9,1244.9 L789.9,1245.2 L791.9,1245.5 L793.9,1245.7 L795.9,1246.0 L797.9,1246.2 L799.9,1246.5 L801.9,1246.7 L803.9,1247.0 L805.9,1247.2 L807.9,1247.4 L809.9,1247.6 L811.9,1247.8 L813.9,1248.0 L815.9,1248.2 L817.9,1248.4 L819.8,1248.5 L821.8,1248.7 L823.8,1248.8 L825.8,1248.9 L827.7,1249.1 L829.7,1249.2 L831.7,1249.2 L833.7,1249.3 L835.6,1249.4 L837.6,1249.4 L839.6,1249.5 L841.5,1249.5 L843.5,1249.5 L845.4,1249.5 L847.4,1249.5 L849.4,1249.4 L851.3,1249.4 L853.3,1249.3 L855.2,1249.2 L857.1,1249.1 L859.1,1248.9 L861.0,1248.8 L863.0,1248.6 L864.9,1248.5 L866.8,1248.2 L868.8,1248.0 L870.7,1247.8 L872.6,1247.5 L874.5,1247.2 L876.4,1246.9 L878.4,1246.6 L880.3,1246.3 L882.2,1245.9 L884.1,1245.5 L886.0,1245.1 L887.9,1244.7 L889.8,1244.2 L891.6,1243.7 L893.5,1243.2 L895.4,1242.7 L897.3,1242.2 L899.1,1241.6 L901.0,1241.0 L902.8,1240.4 L904.7,1239.7 L906.5,1239.1 L908.3,1238.4 L910.2,1237.7 L912.0,1236.9 L913.8,1236.2 L915.6,1235.4 L917.4,1234.5 L919.2,1233.7 L920.9,1232.8 L922.7,1231.9 L924.5,1231.0 L926.2,1230.1 L928.0,1229.1 L929.7,1228.1 L931.4,1227.0 L933.1,1226.0 L934.8,1224.9 L936.5,1223.8 L938.2,1222.6 L939.9,1221.4 L941.5,1220.2 L943.2,1219.0 L944.8,1217.7 L946.4,1216.4 L948.0,1215.1 L949.6,1213.8 L951.2,1212.4 L952.8,1211.0 L954.4,1209.5 L955.9,1208.0 L957.4,1206.5 L959.0,1205.0 L960.5,1203.4 L962.0,1201.8 L963.4,1200.2 L964.9,1198.5 L966.4,1196.8 L967.8,1195.1 L969.2,1193.3 L970.6,1191.5" stroke="#0000a0" stroke-width="7.6"/>
<path d="M136.4,1539.5 L137.1,1537.6 L137.8,1535.8 L138.6,1533.9 L139.3,1532.0 L140.1,1530.2 L140.9,1528.3 L141.7,1526.5 L142.4,1524.7 L143.3,1522.8 L144.1,1521.0 L144.9,1519.2 L145.7,1517.4 L146.6,1515.6 L147.4,1513.8 L148.3,1512.0 L149.2,1510.2 L150.1,1508.4 L151.0,1506.6 L151.9,1504.8 L152.8,1503.0 L153.7,1501.3 L154.7,1499.5 L155.6,1497.8 L156.6,1496.0 L157.6,1494.3 L158.5,1492.5 L159.5,1490.8 L160.5,1489.1 L161.6,1487.4 L162.6,1485.6 L163.6,1483.9 L164.6,1482.2 L165.7,1480.5 L166.8,1478.8 L167.8,1477.2 L168.9,1475.5 L170.0,1473.8 L171.1,1472.1 L172.2,1470.5 L173.3,1468.8 L174.4,1467.2 L175.6,1465.5 L176.7,1463.9 L177.9,1462.3 L179.0,1460.6 L180.2,1459.0 L181.4,1457.4 L182.6,1455.8 L183.8,1454.2 L185.0,1452.6 L186.2,1451.0 L187.4,1449.4 L188.6,1447.9 L189.9,1446.3 L191.1,1444.7 L192.4,1443.2 L193.7,1441.6 L194.9,1440.1 L196.2,1438.6 L197.5,1437.0 L198.8,1435.5 L200.1,1434.0 L201.4,1432.5 L202.7,1431.0 L204.1,1429.5 L205.4,1428.0 L206.8,1426.5 L208.1,1425.0 L209.5,1423.6 L210.9,1422.1 L212.2,1420.7 L213.6,1419.2 L215.0,1417.8 L216.4,1416.3 L217.8,1414.9 L219.2,1413.5 L220.7,1412.1 L222.1,1410.7 L223.5,1409.3 L225.0,1407.9 L226.4,1406.5 L227.9,1405.1 L229.4,1403.8 L230.9,1402.4 L232.3,1401.1 L233.8,1399.7 L235.3,1398.4 L236.8,1397.0 L238.3,1395.7 L239.9,1394.4 L241.4,1393.1 L242.9,1391.8 L244.4,1390.5 L246.0,1389.2 L247.5,1387.9 L249.1,1386.7 L250.7,1385.4 L252.2,1384.1 L253.8,1382.9 L255.4,1381.7 L257.0,1380.4 L258.6,1379.2 L260.2,1378.0 L261.8,1376.8 L263.4,1375.6 L265.0,1374.4 L266.7,1373.2 L268.3,1372.0 L269.9,1370.9 L271.6,1369.7 L273.2,1368.5 L274.9,1367.4 L276.5,1366.3 L278.2,1365.1 L279.9,1364.0 L281.5,1362.9 L283.2,1361.8 L284.9,1360.7 L286.6,1359.6 L288.3,1358.5 L290.0,1357.5 L291.7,1356.4 L293.4,1355.3 L295.2,1354.3 L296.9,1353.3 L298.6,1352.2 L300.4,1351.2 L302.1,1350.2 L303.8,1349.2 L305.6,1348.2 L307.3,1347.2 L309.1,1346.2 L310.9,1345.3 L312.6,1344.3 L314.4,1343.3 L316.2,1342.4 L318.0,1341.5 L319.8,1340.5 L321.6,1339.6 L323.4,1338.7 L325.2,1337.8 L327.0,1336.9 L328.8,1336.0 L330.6,1335.2 L332.4,1334.3 L334.2,1333.4 L336.0,1332.6 L337.9,1331.8 L339.7,1330.9 L341.5,1330.1 L343.4,1329.3 L345.2,1328.5 L347.1,1327.7 L348.9,1326.9 L350.8,1326.2 L352.7,1325.4 L354.5,1324.6 L356.4,1323.9 L358.3,1323.2 L360.1,1322.4 L362.0,1321.7 L363.9,1321.0 L365.8,1320.3 L367.7,1319.6 L369.5,1318.9 L371.4,1318.3 L373.3,1317.6 L375.2,1317.0 L377.1,1316.3 L379.0,1315.7 L380.9,1315.1 L382.9,1314.5 L384.8,1313.9 L386.7,1313.3 L388.6,1312.7 L390.5,1312.1 L392.4,1311.6 L394.4,1311.0 L396.3,1310.5 L398.2,1309.9 L400.2,1309.4 L402.1,1308.9 L404.0,1308.4 L406.0,1307.9 L407.9,1307.4 L409.9,1306.9 L411.8,1306.5 L413.8,1306.0 L415.7,1305.6 L417.7,1305.2 L419.6,1304.7 L421.6,1304.3 L423.5,1303.9 L425.5,1303.5 L427.5,1303.1 L429.4,1302.8 L431.4,1302.4 L433.3,1302.1 L435.3,1301.7 L437.3,1301.4 L439.3,1301.1 L441.2,1300.8 L443.2,1300.5 L445.2,1300.2 L447.1,1299.9 L449.1,1299.7 L451.1,1299.4 L453.1,1299.2 L455.1,1298.9 L457.0,1298.7 L459.0,1298.5 L461.0,1298.3 L463.0,1298.1 L465.0,1297.9 L467.0,1297.8 L468.9,1297.6 L470.9,1297.4 L472.9,1297.3 L474.9,1297.2 L476.9,1297.1 L478.9,1297.0 L480.9,1296.9 L482.8,1296.8 L484.8,1296.7 L486.8,1296.7 L488.8,1296.6 L490.8,1296.6 L492.8,1296.6 L494.8,1296.6 L496.8,1296.6 L498.8,1296.6 L500.7,1296.6 L502.7,1296.6 L504.7,1296.7 L506.7,1296.7 L508.7,1296.8 L510.7,1296.9 L512.7,1297.0 L514.7,1297.1 L516.6,1297.2 L518.6,1297.3 L520.6,1297.4 L522.6,1297.6 L524.6,1297.7 L526.6,1297.9 L528.5,1298.1 L530.5,1298.3 L532.5,1298.5 L534.5,1298.7 L536.5,1298.9 L538.4,1299.2 L540.4,1299.4 L542.4,1299.7 L544.4,1300.0 L546.3,1300.3 L548.3,1300.6 L550.3,1300.9 L552.2,1301.2 L554.2,1301.6 L556.2,1301.9 L558.1,1302.3 L560.1,1302.6 L562.1,1303.0 L564.0,1303.4 L566.0,1303.8 L567.9,1304.2 L569.9,1304.6 L571.9,1305.0 L573.8,1305.5 L575.8,1305.9 L577.7,1306.4 L579.7,1306.8 L581.6,1307.3 L583.6,1307.8 L585.5,1308.3 L587.5,1308.8 L589.4,1309.3 L591.4,1309.8 L593.3,1310.3 L595.3,1310.8 L597.2,1311.3 L599.2,1311.9 L601.1,1312.4 L603.1,1312.9 L605.0,1313.5 L607.0,1314.0 L608.9,1314.6 L610.9,1315.2 L612.8,1315.7 L614.8,1316.3 L616.7,1316.9 L618.7,1317.5 L620.6,1318.0 L622.5,1318.6 L624.5,1319.2 L626.4,1319.8 L628.4,1320.4 L630.3,1321.0 L632.3,1321.6 L634.2,1322.2 L636.2,1322.8 L638.1,1323.4 L640.1,1324.0 L642.0,1324.7 L644.0,1325.3 L645.9,1325.9 L647.9,1326.5 L649.8,1327.1 L651.8,1327.7 L653.7,1328.3 L655.7,1329.0 L657.6,1329.6 L659.6,1330.2 L661.5,1330.8 L663.5,1331.4 L665.4,1332.0 L667.4,1332.6 L669.3,1333.2 L671.3,1333.8 L673.2,1334.4 L675.2,1335.0 L677.1,1335.6 L679.1,1336.2 L681.0,1336.8 L683.0,1337.3 L685.0,1337.9 L686.9,1338.4 L688.9,1338.9 L690.8,1339.4 L692.8,1339.9 L694.7,1340.4 L696.7,1340.8 L698.6,1341.3 L700.6,1341.7 L702.5,1342.1 L704.4,1342.4 L706.4,1342.8 L708.3,1343.1 L710.3,1343.4 L712.2,1343.6 L714.1,1343.8 L716.1,1344.0 L718.0,1344.2 L719.9,1344.3 L721.8,1344.4 L723.7,1344.5 L725.7,1344.5 L727.6,1344.5 L729.5,1344.4 L731.4,1344.3 L733.3,1344.2 L735.2,1344.0 L737.1,1343.8 L738.9,1343.6 L740.8,1343.3 L742.7,1343.0 L744.5,1342.6 L746.4,1342.2 L748.2,1341.8 L750.1,1341.3 L751.9,1340.8 L753.7,1340.2 L755.5,1339.6 L757.3,1339.0 L759.1,1338.3 L760.9,1337.6 L762.6,1336.8 L764.4,1336.0 L766.1,1335.2 L767.8,1334.3 L769.5,1333.4 L771.2,1332.4 L772.9,1331.5 L774.6,1330.4 L776.2,1329.4 L777.9,1328.3 L779.5,1327.2 L781.1,1326.1 L782.7,1324.9 L784.3,1323.7 L785.9,1322.4 L787.5,1321.2 L789.0,1319.9 L790.6,1318.6 L792.1,1317.3 L793.6,1315.9 L795.1,1314.5 L796.5,1313.1 L798.0,1311.7 L799.5,1310.2 L800.9,1308.8 L802.3,1307.3 L803.7,1305.8 L805.1,1304.3 L806.5,1302.7 L807.8,1301.2 L809.2,1299.6 L810.5,1298.0 L811.8,1296.4 L813.1,1294.8 L814.4,1293.2 L815.7,1291.6 L816.9,1290.0 L818.1,1288.3 L819.4,1286.7 L820.6,1285.0 L821.7,1283.3 L822.9,1281.7 L824.1,1280.0 L825.2,1278.3 L826.4,1276.6 L827.5,1274.9 L828.6,1273.2 L829.7,1271.5 L830.8,1269.7 L831.9,1268.0 L832.9,1266.3 L834.0,1264.6 L835.0,1262.8 L836.1,1261.1 L837.1,1259.3 L838.1,1257.6 L839.1,1255.8 L840.1,1254.0 L841.1,1252.3 L842.1,1250.5 L843.1,1248.7 L844.1,1246.9 L845.1,1245.2 L846.0,1243.4 L847.0,1241.6 L848.0,1239.8 L848.9,1238.0 L849.9,1236.2 L850.8,1234.5 L851.8,1232.7 L852.7,1230.9 L853.7,1229.1 L854.6,1227.3 L855.6,1225.5 L856.5,1223.7 L857.4,1222.0 L858.4,1220.2 L859.3,1218.4 L860.3,1216.6 L861.2,1214.8 L862.2,1213.1 L863.1,1211.3 L864.1,1209.5 L865.0,1207.7 L866.0,1206.0 L866.9,1204.2 L867.9,1202.5 L868.9,1200.7 L869.9,1199.0 L870.8,1197.2 L871.8,1195.5 L872.8,1193.7 L873.8,1192.0 L874.8,1190.2 L875.8,1188.5 L876.8,1186.8 L877.8,1185.0 L878.8,1183.3 L879.8,1181.6 L880.8,1179.9 L881.8,1178.2 L882.8,1176.4 L883.8,1174.7 L884.8,1173.0 L885.8,1171.3 L886.9,1169.6 L887.9,1167.9 L888.9,1166.2 L890.0,1164.5 L891.0,1162.8 L892.0,1161.1 L893.1,1159.4 L894.1,1157.7 L895.1,1156.0 L896.2,1154.3 L897.2,1152.6 L898.3,1150.9 L899.3,1149.2 L900.4,1147.6 L901.4,1145.9 L902.5,1144.2 L903.6,1142.5 L904.6,1140.8 L905.7,1139.1 L906.8,1137.5 L907.8,1135.8 L908.9,1134.1 L910.0,1132.4 L911.0,1130.8 L912.1,1129.1 L913.2,1127.4 L914.3,1125.7 L915.3,1124.1 L916.4,1122.4 L917.5,1120.7 L918.6,1119.1 L919.7,1117.4 L920.8,1115.7 L921.8,1114.1 L922.9,1112.4 L924.0,1110.7 L925.1,1109.0 L926.2,1107.4 L927.3,1105.7 L928.4,1104.0 L929.5,1102.4 L930.6,1100.7 L931.7,1099.0 L932.8,1097.4 L933.9,1095.7 L935.0,1094.0 L936.1,1092.4 L937.2,1090.7 L938.3,1089.0 L939.4,1087.3 L940.5,1085.7 L941.6,1084.0 L942.7,1082.3 L943.8,1080.6 L944.9,1079.0 L946.0,1077.3 L947.1,1075.6 L948.2,1073.9 L949.3,1072.3 L950.5,1070.6 L951.6,1068.9 L952.7,1067.2 L953.8,1065.5 L954.9,1063.8 L956.0,1062.2 L957.1,1060.5 L958.2,1058.8 L959.3,1057.1 L960.4,1055.4 L961.5,1053.7 L962.6,1052.0 L963.8,1050.3 L964.9,1048.6 L966.0,1046.9 L967.1,1045.2 L968.2,1043.5 L969.3,1041.8 L970.4,1040.1" stroke="#7070ff" stroke-width="7.6"/>
</g>
<rect x="374.7" y="1366.3" width="14" height="14" fill="#000"/>
<rect x="436.6" y="1307.0" width="14" height="14" fill="#000"/>
<rect x="469.8" y="1290.9" width="14" height="14" fill="#000"/>
<rect x="538.7" y="1229.2" width="14" height="14" fill="#000"/>
<circle cx="581.7" cy="1406.4" r="7.6" fill="#000"/>
<circle cx="758.9" cy="1269.1" r="7.6" fill="#000"/>
<circle cx="776.5" cy="1328.9" r="7.6" fill="#000"/>
<circle cx="957.4" cy="1206.3" r="7.6" fill="#000"/>
<path d="M701.6,1113.8 L844.4,1140.1" stroke="#000" stroke-width="2.5"/>
<rect x="127" y="1014.5" width="839" height="532.0" fill="none" stroke="#000" stroke-width="3" stroke-linejoin="round"/>
<path d="M165.2,1546.5 v-8 M203.3,1546.5 v-16 M241.5,1546.5 v-8 M279.7,1546.5 v-16 M317.9,1546.5 v-8 M356.0,1546.5 v-16 M394.2,1546.5 v-8 M432.4,1546.5 v-16 M470.6,1546.5 v-8 M508.8,1546.5 v-16 M546.9,1546.5 v-8 M585.1,1546.5 v-16 M623.3,1546.5 v-8 M661.4,1546.5 v-16 M699.6,1546.5 v-8 M737.8,1546.5 v-16 M776.0,1546.5 v-8 M814.1,1546.5 v-16 M852.3,1546.5 v-8 M890.5,1546.5 v-16 M928.7,1546.5 v-8 M127,1508.5 h8 M127,1470.5 h16 M127,1432.5 h8 M127,1394.5 h16 M127,1356.5 h8 M127,1318.5 h16 M127,1280.5 h8 M127,1242.5 h16 M127,1204.5 h8 M127,1166.5 h16 M127,1128.5 h8 M127,1090.5 h16 M127,1052.5 h8" stroke="#000" stroke-width="3" fill="none"/>
<text x="96.49" y="1555.1" font-size="24.5" textLength="13.01" lengthAdjust="spacingAndGlyphs">0</text>
<text x="83.47" y="1479.1" font-size="24.5" textLength="26.03" lengthAdjust="spacingAndGlyphs">50</text>
<text x="70.46" y="1403.1" font-size="24.5" textLength="39.04" lengthAdjust="spacingAndGlyphs">100</text>
<text x="70.46" y="1327.1" font-size="24.5" textLength="39.04" lengthAdjust="spacingAndGlyphs">150</text>
<text x="70.46" y="1251.1" font-size="24.5" textLength="39.04" lengthAdjust="spacingAndGlyphs">200</text>
<text x="70.46" y="1175.1" font-size="24.5" textLength="39.04" lengthAdjust="spacingAndGlyphs">250</text>
<text x="70.46" y="1099.1" font-size="24.5" textLength="39.04" lengthAdjust="spacingAndGlyphs">300</text>
<text x="70.46" y="1023.1" font-size="24.5" textLength="39.04" lengthAdjust="spacingAndGlyphs">350</text>
<text x="120.49" y="1584.3" font-size="24.5" textLength="13.01" lengthAdjust="spacingAndGlyphs">0</text>
<text x="190.34" y="1584.3" font-size="24.5" textLength="26.03" lengthAdjust="spacingAndGlyphs">50</text>
<text x="260.18" y="1584.3" font-size="24.5" textLength="39.04" lengthAdjust="spacingAndGlyphs">100</text>
<text x="336.53" y="1584.3" font-size="24.5" textLength="39.04" lengthAdjust="spacingAndGlyphs">150</text>
<text x="412.88" y="1584.3" font-size="24.5" textLength="39.04" lengthAdjust="spacingAndGlyphs">200</text>
<text x="489.23" y="1584.3" font-size="24.5" textLength="39.04" lengthAdjust="spacingAndGlyphs">250</text>
<text x="565.58" y="1584.3" font-size="24.5" textLength="39.04" lengthAdjust="spacingAndGlyphs">300</text>
<text x="641.93" y="1584.3" font-size="24.5" textLength="39.04" lengthAdjust="spacingAndGlyphs">350</text>
<text x="718.28" y="1584.3" font-size="24.5" textLength="39.04" lengthAdjust="spacingAndGlyphs">400</text>
<text x="794.63" y="1584.3" font-size="24.5" textLength="39.04" lengthAdjust="spacingAndGlyphs">450</text>
<text x="870.98" y="1584.3" font-size="24.5" textLength="39.04" lengthAdjust="spacingAndGlyphs">500</text>
<text x="947.33" y="1584.3" font-size="24.5" textLength="39.04" lengthAdjust="spacingAndGlyphs">550</text>
<text x="441.5" y="1627" font-size="35.5" textLength="209" lengthAdjust="spacingAndGlyphs">Re(Z) / Ωcm<tspan font-size="20" dy="-16">2</tspan></text>
<g transform="translate(56.9,1389) rotate(-90)"><text x="0" y="0" font-size="35.5" textLength="214" lengthAdjust="spacingAndGlyphs">-Im(Z) / Ωcm<tspan font-size="20" dy="-16">2</tspan></text></g>
<text x="15.53" y="1039.7" font-size="39" textLength="17.28" lengthAdjust="spacingAndGlyphs" stroke="#000" stroke-width="0.5">c</text>
<text x="36.42" y="1038.3" font-size="40.5" textLength="10.17" lengthAdjust="spacingAndGlyphs" stroke="#000" stroke-width="0.4">)</text>
<text x="149.29" y="1041.5" font-size="29" textLength="62.86" lengthAdjust="spacingAndGlyphs" >LP57</text>
<text x="221.89" y="1041.5" font-size="29" textLength="12.02" lengthAdjust="spacingAndGlyphs" >+</text>
<text x="247.06" y="1041.5" font-size="29" textLength="84.08" lengthAdjust="spacingAndGlyphs" font-weight="bold" >2% VC</text>
<text x="332.5" y="1041.5" font-size="29">,</text>
<text x="349.11" y="1041.5" font-size="29" textLength="35.01" lengthAdjust="spacingAndGlyphs" fill="#ff3838" >Cu</text>
<text x="392.51" y="1041.5" font-size="29" textLength="50.86" lengthAdjust="spacingAndGlyphs" >and</text>
<text x="451.28" y="1041.5" font-size="29" textLength="31.36" lengthAdjust="spacingAndGlyphs" fill="#1414c0" >Ni</text>
<text x="490.45" y="1041.5" font-size="29" textLength="40.68" lengthAdjust="spacingAndGlyphs" >foil</text>
<path d="M149,1046.2 H532" stroke="#000" stroke-width="1.8"/>
<path d="M348,1046.2 H383.8" stroke="#ff3838" stroke-width="2"/>
<path d="M452,1046.2 H481" stroke="#1414c0" stroke-width="2"/>
<text x="600.08" y="1124" font-size="29" textLength="85.65" lengthAdjust="spacingAndGlyphs" >Cu 2 V</text>
<text x="872.69" y="1284.2" font-size="29" textLength="76.84" lengthAdjust="spacingAndGlyphs" >Ni 2 V</text>
<text x="705.49" y="1380.8" font-size="29" textLength="104.54" lengthAdjust="spacingAndGlyphs" >Ni 0.2 V</text>
<text x="476.16" y="1456.6" font-size="29" textLength="110.16" lengthAdjust="spacingAndGlyphs" >Cu 0.2 V</text>
<rect x="810" y="1442" width="24.5" height="25.5" fill="none" stroke="#000" stroke-width="2.2"/>
<circle cx="821.7" cy="1496.2" r="13" fill="none" stroke="#000" stroke-width="2.2"/>
<text x="856.59" y="1463.8" font-size="29" textLength="91.85" lengthAdjust="spacingAndGlyphs" >100 Hz</text>
<text x="876.38" y="1508.8" font-size="29" textLength="72.81" lengthAdjust="spacingAndGlyphs" >10 Hz</text>
</svg>
</body></html>
